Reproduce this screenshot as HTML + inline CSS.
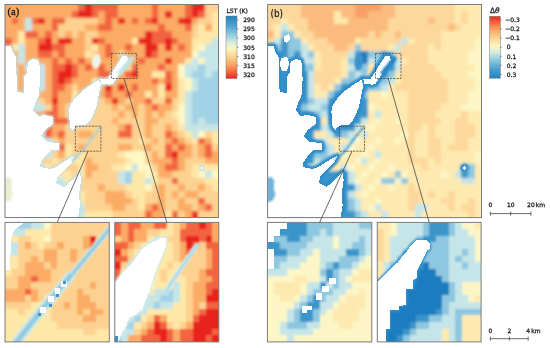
<!DOCTYPE html>
<html><head><meta charset="utf-8"><style>
html,body{margin:0;padding:0;background:#fff;}
body{width:550px;height:348px;overflow:hidden;}
svg{display:block;}
</style></head><body>
<svg width="550" height="348" viewBox="0 0 550 348" shape-rendering="crispEdges">
<defs><linearGradient id="ga" x1="0" y1="0" x2="0" y2="1"><stop offset="0%" stop-color="#2383c2"/><stop offset="15%" stop-color="#4aa0d0"/><stop offset="30%" stop-color="#8fcae0"/><stop offset="42%" stop-color="#d6ecdc"/><stop offset="52%" stop-color="#fcf6c0"/><stop offset="65%" stop-color="#fdd390"/><stop offset="78%" stop-color="#fba564"/><stop offset="90%" stop-color="#f3643c"/><stop offset="100%" stop-color="#e52a20"/></linearGradient><linearGradient id="gb" x1="0" y1="0" x2="0" y2="1"><stop offset="0%" stop-color="#e52a20"/><stop offset="10%" stop-color="#f3643c"/><stop offset="22%" stop-color="#fba564"/><stop offset="35%" stop-color="#fdd390"/><stop offset="48%" stop-color="#fcf6c0"/><stop offset="58%" stop-color="#d6ecdc"/><stop offset="70%" stop-color="#8fcae0"/><stop offset="85%" stop-color="#4aa0d0"/><stop offset="100%" stop-color="#2383c2"/></linearGradient><clipPath id="k0"><rect x="5" y="4.5" width="213.5" height="213"/></clipPath><clipPath id="k1"><rect x="267.6" y="4.5" width="213.9" height="213.1"/></clipPath><clipPath id="k2"><rect x="5" y="222.4" width="104.3" height="119.5"/></clipPath><clipPath id="k3"><rect x="114.8" y="222.4" width="104" height="119.5"/></clipPath><clipPath id="k4"><rect x="267.4" y="222.4" width="104.4" height="119.5"/></clipPath><clipPath id="k5"><rect x="377.3" y="222.4" width="103.8" height="119.5"/></clipPath><filter id="blm" x="-5%" y="-5%" width="110%" height="110%"><feGaussianBlur stdDeviation="1.6"/></filter><filter id="bli" x="-5%" y="-5%" width="110%" height="110%"><feGaussianBlur stdDeviation="1.2"/></filter><filter id="bh1" x="-5%" y="-5%" width="110%" height="110%"><feGaussianBlur stdDeviation="0.8"/></filter><filter id="bh2" x="-5%" y="-5%" width="110%" height="110%"><feGaussianBlur stdDeviation="1.2"/></filter><filter id="goo" x="-5%" y="-5%" width="110%" height="110%"><feGaussianBlur stdDeviation="1.5"/><feComponentTransfer><feFuncA type="linear" slope="8" intercept="-3.5"/></feComponentTransfer></filter></defs>
<g><g clip-path="url(#k0)"><g filter="url(#blm)"><path fill="#fbab65" d="M-1 -1.5H78.39V11.16H-1zM118.42 -1.5H151.78V11.16H118.42zM158.45 -1.5H185.14V11.16H158.45zM-1 11.16H71.72V17.81H-1zM98.41 11.16H105.08V17.81H98.41zM118.42 11.16H151.78V17.81H118.42zM158.45 11.16H165.12V17.81H158.45zM171.8 11.16H185.14V17.81H171.8zM-1 17.81H11.67V24.47H-1zM18.34 17.81H25.02V24.47H18.34zM45.03 17.81H51.7V24.47H45.03zM98.41 17.81H105.08V24.47H98.41zM111.75 17.81H118.42V24.47H111.75zM125.09 17.81H131.77V24.47H125.09zM138.44 17.81H145.11V24.47H138.44zM158.45 17.81H178.47V24.47H158.45zM191.81 17.81H198.48V24.47H191.81zM-1 24.47H25.02V31.12H-1zM31.69 24.47H51.7V31.12H31.69zM85.06 24.47H98.41V31.12H85.06zM111.75 24.47H158.45V31.12H111.75zM165.12 24.47H185.14V31.12H165.12zM205.16 24.47H211.83V31.12H205.16zM-1 31.12H18.34V37.78H-1zM38.36 31.12H45.03V37.78H38.36zM51.7 31.12H58.38V37.78H51.7zM65.05 31.12H71.72V37.78H65.05zM78.39 31.12H85.06V37.78H78.39zM98.41 31.12H145.11V37.78H98.41zM171.8 31.12H191.81V37.78H171.8zM11.67 37.78H18.34V44.44H11.67zM25.02 37.78H38.36V44.44H25.02zM51.7 37.78H58.38V44.44H51.7zM71.72 37.78H85.06V44.44H71.72zM105.08 37.78H131.77V44.44H105.08zM178.47 37.78H191.81V44.44H178.47zM25.02 44.44H38.36V51.09H25.02zM65.05 44.44H85.06V51.09H65.05zM98.41 44.44H105.08V51.09H98.41zM111.75 44.44H125.09V51.09H111.75zM131.77 44.44H145.11V51.09H131.77zM158.45 44.44H165.12V51.09H158.45zM171.8 44.44H178.47V51.09H171.8zM185.14 44.44H191.81V51.09H185.14zM-1 51.09H18.34V57.75H-1zM25.02 51.09H38.36V57.75H25.02zM51.7 51.09H58.38V57.75H51.7zM65.05 51.09H85.06V57.75H65.05zM98.41 51.09H105.08V57.75H98.41zM111.75 51.09H118.42V57.75H111.75zM125.09 51.09H145.11V57.75H125.09zM158.45 51.09H191.81V57.75H158.45zM-1 57.75H18.34V64.41H-1zM25.02 57.75H51.7V64.41H25.02zM58.38 57.75H65.05V64.41H58.38zM71.72 57.75H78.39V64.41H71.72zM85.06 57.75H91.73V64.41H85.06zM98.41 57.75H125.09V64.41H98.41zM131.77 57.75H138.44V64.41H131.77zM145.11 57.75H165.12V64.41H145.11zM171.8 57.75H185.14V64.41H171.8zM-1 64.41H25.02V71.06H-1zM31.69 64.41H38.36V71.06H31.69zM45.03 64.41H51.7V71.06H45.03zM78.39 64.41H85.06V71.06H78.39zM91.73 64.41H98.41V71.06H91.73zM105.08 64.41H118.42V71.06H105.08zM138.44 64.41H158.45V71.06H138.44zM165.12 64.41H178.47V71.06H165.12zM-1 71.06H38.36V77.72H-1zM45.03 71.06H51.7V77.72H45.03zM78.39 71.06H98.41V77.72H78.39zM118.42 71.06H125.09V77.72H118.42zM138.44 71.06H151.78V77.72H138.44zM171.8 71.06H178.47V77.72H171.8zM-1 77.72H31.69V84.38H-1zM45.03 77.72H51.7V84.38H45.03zM71.72 77.72H91.73V84.38H71.72zM98.41 77.72H105.08V84.38H98.41zM111.75 77.72H151.78V84.38H111.75zM158.45 77.72H165.12V84.38H158.45zM171.8 77.72H178.47V84.38H171.8zM-1 84.38H31.69V91.03H-1zM45.03 84.38H51.7V91.03H45.03zM65.05 84.38H71.72V91.03H65.05zM78.39 84.38H91.73V91.03H78.39zM98.41 84.38H105.08V91.03H98.41zM111.75 84.38H118.42V91.03H111.75zM125.09 84.38H131.77V91.03H125.09zM138.44 84.38H158.45V91.03H138.44zM171.8 84.38H178.47V91.03H171.8zM-1 91.03H25.02V97.69H-1zM38.36 91.03H51.7V97.69H38.36zM58.38 91.03H71.72V97.69H58.38zM78.39 91.03H105.08V97.69H78.39zM111.75 91.03H125.09V97.69H111.75zM131.77 91.03H145.11V97.69H131.77zM151.78 91.03H158.45V97.69H151.78zM165.12 91.03H178.47V97.69H165.12zM-1 97.69H25.02V104.34H-1zM45.03 97.69H51.7V104.34H45.03zM58.38 97.69H71.72V104.34H58.38zM78.39 97.69H91.73V104.34H78.39zM105.08 97.69H111.75V104.34H105.08zM118.42 97.69H125.09V104.34H118.42zM131.77 97.69H145.11V104.34H131.77zM-1 104.34H25.02V111H-1zM58.38 104.34H65.05V111H58.38zM85.06 104.34H91.73V111H85.06zM111.75 104.34H118.42V111H111.75zM125.09 104.34H138.44V111H125.09zM145.11 104.34H151.78V111H145.11zM158.45 104.34H171.8V111H158.45zM-1 111H45.03V117.66H-1zM58.38 111H65.05V117.66H58.38zM118.42 111H125.09V117.66H118.42zM131.77 111H138.44V117.66H131.77zM145.11 111H151.78V117.66H145.11zM158.45 111H165.12V117.66H158.45zM38.36 117.66H45.03V124.31H38.36zM111.75 117.66H118.42V124.31H111.75zM145.11 117.66H158.45V124.31H145.11zM51.7 124.31H65.05V130.97H51.7zM118.42 124.31H125.09V130.97H118.42zM145.11 124.31H151.78V130.97H145.11zM165.12 124.31H171.8V130.97H165.12zM51.7 130.97H58.38V137.62H51.7zM78.39 130.97H91.73V137.62H78.39zM145.11 130.97H151.78V137.62H145.11zM171.8 130.97H178.47V137.62H171.8zM58.38 137.62H65.05V144.28H58.38zM151.78 137.62H158.45V144.28H151.78zM165.12 137.62H171.8V144.28H165.12zM178.47 137.62H185.14V144.28H178.47zM205.16 137.62H211.83V144.28H205.16zM78.39 144.28H85.06V150.94H78.39zM118.42 144.28H131.77V150.94H118.42zM145.11 144.28H151.78V150.94H145.11zM171.8 144.28H178.47V150.94H171.8zM185.14 144.28H191.81V150.94H185.14zM198.48 144.28H205.16V150.94H198.48zM58.38 150.94H65.05V157.59H58.38zM151.78 150.94H158.45V157.59H151.78zM178.47 150.94H191.81V157.59H178.47zM198.48 150.94H205.16V157.59H198.48zM211.83 150.94H224.5V157.59H211.83zM85.06 157.59H91.73V164.25H85.06zM151.78 157.59H171.8V164.25H151.78zM178.47 157.59H185.14V164.25H178.47zM205.16 157.59H224.5V164.25H205.16zM85.06 164.25H98.41V170.91H85.06zM158.45 164.25H165.12V170.91H158.45zM178.47 164.25H185.14V170.91H178.47zM85.06 170.91H91.73V177.56H85.06zM158.45 170.91H171.8V177.56H158.45zM98.41 184.22H105.08V190.88H98.41zM158.45 184.22H165.12V190.88H158.45zM178.47 184.22H185.14V190.88H178.47zM198.48 184.22H205.16V190.88H198.48zM105.08 190.88H125.09V197.53H105.08zM158.45 190.88H165.12V197.53H158.45zM171.8 190.88H178.47V197.53H171.8zM185.14 190.88H198.48V197.53H185.14zM105.08 197.53H131.77V204.19H105.08zM158.45 197.53H165.12V204.19H158.45zM178.47 197.53H185.14V204.19H178.47zM111.75 204.19H125.09V210.84H111.75zM145.11 204.19H151.78V210.84H145.11zM158.45 204.19H165.12V210.84H158.45zM178.47 204.19H191.81V210.84H178.47zM198.48 204.19H205.16V210.84H198.48zM151.78 210.84H165.12V223.5H151.78zM185.14 210.84H191.81V223.5H185.14z"/>
<path fill="#f2643f" d="M78.39 -1.5H85.06V11.16H78.39zM91.73 -1.5H118.42V11.16H91.73zM151.78 -1.5H158.45V11.16H151.78zM185.14 -1.5H191.81V11.16H185.14zM71.72 11.16H78.39V17.81H71.72zM91.73 11.16H98.41V17.81H91.73zM105.08 11.16H118.42V17.81H105.08zM151.78 11.16H158.45V17.81H151.78zM185.14 11.16H191.81V17.81H185.14zM198.48 11.16H205.16V17.81H198.48zM11.67 17.81H18.34V24.47H11.67zM31.69 17.81H38.36V24.47H31.69zM51.7 17.81H65.05V24.47H51.7zM105.08 17.81H111.75V24.47H105.08zM131.77 17.81H138.44V24.47H131.77zM145.11 17.81H151.78V24.47H145.11zM51.7 24.47H58.38V31.12H51.7zM98.41 24.47H111.75V31.12H98.41zM158.45 24.47H165.12V31.12H158.45zM185.14 24.47H191.81V31.12H185.14zM25.02 31.12H38.36V37.78H25.02zM45.03 31.12H51.7V37.78H45.03zM151.78 31.12H171.8V37.78H151.78zM-1 37.78H11.67V44.44H-1zM38.36 37.78H45.03V44.44H38.36zM98.41 37.78H105.08V44.44H98.41zM151.78 37.78H165.12V44.44H151.78zM171.8 37.78H178.47V44.44H171.8zM-1 44.44H11.67V51.09H-1zM51.7 44.44H65.05V51.09H51.7zM105.08 44.44H111.75V51.09H105.08zM125.09 44.44H131.77V51.09H125.09zM178.47 44.44H185.14V51.09H178.47zM38.36 51.09H51.7V57.75H38.36zM58.38 51.09H65.05V57.75H58.38zM105.08 51.09H111.75V57.75H105.08zM151.78 51.09H158.45V57.75H151.78zM51.7 57.75H58.38V64.41H51.7zM65.05 57.75H71.72V64.41H65.05zM78.39 57.75H85.06V64.41H78.39zM138.44 57.75H145.11V64.41H138.44zM51.7 64.41H65.05V71.06H51.7zM71.72 64.41H78.39V71.06H71.72zM85.06 64.41H91.73V71.06H85.06zM98.41 64.41H105.08V71.06H98.41zM131.77 64.41H138.44V71.06H131.77zM158.45 64.41H165.12V71.06H158.45zM51.7 71.06H58.38V77.72H51.7zM71.72 71.06H78.39V77.72H71.72zM98.41 71.06H111.75V77.72H98.41zM125.09 71.06H131.77V77.72H125.09zM165.12 71.06H171.8V77.72H165.12zM51.7 77.72H58.38V84.38H51.7zM65.05 77.72H71.72V84.38H65.05zM151.78 77.72H158.45V84.38H151.78zM165.12 77.72H171.8V84.38H165.12zM51.7 84.38H65.05V91.03H51.7zM131.77 84.38H138.44V91.03H131.77zM51.7 91.03H58.38V97.69H51.7zM105.08 91.03H111.75V97.69H105.08zM125.09 91.03H131.77V97.69H125.09zM145.11 97.69H151.78V104.34H145.11zM165.12 97.69H171.8V104.34H165.12zM51.7 104.34H58.38V111H51.7zM151.78 104.34H158.45V111H151.78zM45.03 111H58.38V117.66H45.03zM45.03 117.66H71.72V124.31H45.03zM45.03 124.31H51.7V130.97H45.03zM125.09 124.31H131.77V130.97H125.09zM45.03 130.97H51.7V137.62H45.03zM58.38 130.97H65.05V137.62H58.38zM118.42 130.97H131.77V137.62H118.42zM165.12 130.97H171.8V137.62H165.12zM171.8 137.62H178.47V144.28H171.8zM198.48 137.62H205.16V144.28H198.48zM58.38 144.28H65.05V150.94H58.38zM165.12 144.28H171.8V150.94H165.12zM178.47 144.28H185.14V150.94H178.47zM205.16 144.28H211.83V150.94H205.16zM165.12 150.94H171.8V157.59H165.12zM205.16 150.94H211.83V157.59H205.16zM171.8 157.59H178.47V164.25H171.8zM165.12 164.25H178.47V170.91H165.12zM171.8 177.56H178.47V184.22H171.8zM198.48 197.53H205.16V204.19H198.48zM151.78 204.19H158.45V210.84H151.78zM205.16 204.19H211.83V210.84H205.16zM145.11 210.84H151.78V223.5H145.11zM171.8 210.84H178.47V223.5H171.8z"/>
<path fill="#e8201e" d="M85.06 -1.5H91.73V11.16H85.06zM191.81 -1.5H205.16V11.16H191.81zM78.39 11.16H91.73V17.81H78.39zM165.12 11.16H171.8V17.81H165.12zM191.81 11.16H198.48V17.81H191.81zM38.36 17.81H45.03V24.47H38.36zM118.42 17.81H125.09V24.47H118.42zM151.78 17.81H158.45V24.47H151.78zM178.47 17.81H191.81V24.47H178.47zM145.11 31.12H151.78V37.78H145.11zM45.03 37.78H51.7V44.44H45.03zM58.38 37.78H71.72V44.44H58.38zM91.73 37.78H98.41V44.44H91.73zM138.44 37.78H151.78V44.44H138.44zM165.12 37.78H171.8V44.44H165.12zM38.36 44.44H51.7V51.09H38.36zM145.11 44.44H158.45V51.09H145.11zM165.12 44.44H171.8V51.09H165.12zM145.11 51.09H151.78V57.75H145.11zM165.12 57.75H171.8V64.41H165.12zM65.05 64.41H71.72V71.06H65.05zM58.38 71.06H71.72V77.72H58.38zM131.77 71.06H138.44V77.72H131.77zM58.38 77.72H65.05V84.38H58.38zM105.08 84.38H111.75V91.03H105.08zM118.42 84.38H125.09V91.03H118.42zM165.12 84.38H171.8V91.03H165.12zM51.7 97.69H58.38V104.34H51.7zM111.75 97.69H118.42V104.34H111.75zM171.8 150.94H178.47V157.59H171.8zM191.81 210.84H198.48V223.5H191.81z"/>
<path fill="#fdd291" d="M205.16 -1.5H224.5V11.16H205.16zM205.16 11.16H211.83V17.81H205.16zM65.05 17.81H98.41V24.47H65.05zM198.48 17.81H211.83V24.47H198.48zM58.38 24.47H85.06V31.12H58.38zM191.81 24.47H198.48V31.12H191.81zM58.38 31.12H65.05V37.78H58.38zM71.72 31.12H78.39V37.78H71.72zM85.06 31.12H98.41V37.78H85.06zM191.81 31.12H198.48V37.78H191.81zM85.06 37.78H91.73V44.44H85.06zM85.06 44.44H91.73V51.09H85.06zM91.73 51.09H98.41V57.75H91.73zM118.42 51.09H125.09V57.75H118.42zM125.09 57.75H131.77V64.41H125.09zM118.42 64.41H131.77V71.06H118.42zM111.75 71.06H118.42V77.72H111.75zM71.72 84.38H78.39V91.03H71.72zM91.73 84.38H98.41V91.03H91.73zM38.36 97.69H45.03V104.34H38.36zM91.73 97.69H105.08V104.34H91.73zM125.09 97.69H131.77V104.34H125.09zM151.78 97.69H165.12V104.34H151.78zM171.8 97.69H178.47V104.34H171.8zM45.03 104.34H51.7V111H45.03zM65.05 104.34H85.06V111H65.05zM91.73 104.34H111.75V111H91.73zM118.42 104.34H125.09V111H118.42zM138.44 104.34H145.11V111H138.44zM171.8 104.34H178.47V111H171.8zM65.05 111H118.42V117.66H65.05zM125.09 111H131.77V117.66H125.09zM138.44 111H145.11V117.66H138.44zM151.78 111H158.45V117.66H151.78zM165.12 111H171.8V117.66H165.12zM71.72 117.66H111.75V124.31H71.72zM118.42 117.66H145.11V124.31H118.42zM158.45 117.66H178.47V124.31H158.45zM65.05 124.31H118.42V130.97H65.05zM131.77 124.31H145.11V130.97H131.77zM151.78 124.31H165.12V130.97H151.78zM171.8 124.31H178.47V130.97H171.8zM65.05 130.97H78.39V137.62H65.05zM91.73 130.97H118.42V137.62H91.73zM131.77 130.97H145.11V137.62H131.77zM151.78 130.97H165.12V137.62H151.78zM178.47 130.97H185.14V137.62H178.47zM205.16 130.97H211.83V137.62H205.16zM51.7 137.62H58.38V144.28H51.7zM65.05 137.62H138.44V144.28H65.05zM145.11 137.62H151.78V144.28H145.11zM158.45 137.62H165.12V144.28H158.45zM185.14 137.62H191.81V144.28H185.14zM51.7 144.28H58.38V150.94H51.7zM71.72 144.28H78.39V150.94H71.72zM85.06 144.28H118.42V150.94H85.06zM131.77 144.28H145.11V150.94H131.77zM151.78 144.28H165.12V150.94H151.78zM191.81 144.28H198.48V150.94H191.81zM211.83 144.28H224.5V150.94H211.83zM51.7 150.94H58.38V157.59H51.7zM71.72 150.94H78.39V157.59H71.72zM85.06 150.94H118.42V157.59H85.06zM145.11 150.94H151.78V157.59H145.11zM158.45 150.94H165.12V157.59H158.45zM191.81 150.94H198.48V157.59H191.81zM18.34 157.59H51.7V164.25H18.34zM58.38 157.59H71.72V164.25H58.38zM91.73 157.59H125.09V164.25H91.73zM145.11 157.59H151.78V164.25H145.11zM185.14 157.59H205.16V164.25H185.14zM51.7 164.25H58.38V170.91H51.7zM65.05 164.25H78.39V170.91H65.05zM98.41 164.25H111.75V170.91H98.41zM151.78 164.25H158.45V170.91H151.78zM185.14 164.25H191.81V170.91H185.14zM71.72 170.91H78.39V177.56H71.72zM91.73 170.91H118.42V177.56H91.73zM171.8 170.91H191.81V177.56H171.8zM71.72 177.56H118.42V184.22H71.72zM158.45 177.56H171.8V184.22H158.45zM178.47 177.56H205.16V184.22H178.47zM78.39 184.22H98.41V190.88H78.39zM105.08 184.22H125.09V190.88H105.08zM151.78 184.22H158.45V190.88H151.78zM165.12 184.22H178.47V190.88H165.12zM185.14 184.22H198.48V190.88H185.14zM205.16 184.22H211.83V190.88H205.16zM85.06 190.88H105.08V197.53H85.06zM125.09 190.88H131.77V197.53H125.09zM145.11 190.88H158.45V197.53H145.11zM165.12 190.88H171.8V197.53H165.12zM178.47 190.88H185.14V197.53H178.47zM198.48 190.88H224.5V197.53H198.48zM85.06 197.53H105.08V204.19H85.06zM131.77 197.53H138.44V204.19H131.77zM145.11 197.53H158.45V204.19H145.11zM165.12 197.53H178.47V204.19H165.12zM185.14 197.53H198.48V204.19H185.14zM205.16 197.53H224.5V204.19H205.16zM85.06 204.19H111.75V210.84H85.06zM125.09 204.19H138.44V210.84H125.09zM165.12 204.19H178.47V210.84H165.12zM191.81 204.19H198.48V210.84H191.81zM211.83 204.19H224.5V210.84H211.83zM111.75 210.84H145.11V223.5H111.75zM178.47 210.84H185.14V223.5H178.47zM198.48 210.84H224.5V223.5H198.48z"/>
<path fill="#fee8a8" d="M211.83 11.16H224.5V17.81H211.83zM211.83 17.81H224.5V24.47H211.83zM198.48 24.47H205.16V31.12H198.48zM211.83 24.47H224.5V31.12H211.83zM18.34 31.12H25.02V37.78H18.34zM198.48 31.12H224.5V37.78H198.48zM18.34 37.78H25.02V44.44H18.34zM131.77 37.78H138.44V44.44H131.77zM191.81 37.78H211.83V44.44H191.81zM11.67 44.44H18.34V51.09H11.67zM91.73 44.44H98.41V51.09H91.73zM191.81 44.44H198.48V51.09H191.81zM85.06 51.09H91.73V57.75H85.06zM91.73 57.75H98.41V64.41H91.73zM185.14 57.75H191.81V64.41H185.14zM151.78 71.06H165.12V77.72H151.78zM91.73 77.72H98.41V84.38H91.73zM105.08 77.72H111.75V84.38H105.08zM178.47 77.72H185.14V84.38H178.47zM158.45 84.38H165.12V91.03H158.45zM178.47 84.38H185.14V91.03H178.47zM71.72 91.03H78.39V97.69H71.72zM145.11 91.03H151.78V97.69H145.11zM158.45 91.03H165.12V97.69H158.45zM178.47 91.03H185.14V97.69H178.47zM71.72 97.69H78.39V104.34H71.72zM178.47 97.69H185.14V104.34H178.47zM171.8 111H178.47V117.66H171.8zM178.47 124.31H185.14V130.97H178.47zM185.14 130.97H191.81V137.62H185.14zM211.83 130.97H224.5V137.62H211.83zM138.44 137.62H145.11V144.28H138.44zM191.81 137.62H198.48V144.28H191.81zM211.83 137.62H224.5V144.28H211.83zM-1 144.28H18.34V150.94H-1zM65.05 144.28H71.72V150.94H65.05zM-1 150.94H18.34V157.59H-1zM65.05 150.94H71.72V157.59H65.05zM78.39 150.94H85.06V157.59H78.39zM118.42 150.94H125.09V157.59H118.42zM-1 157.59H18.34V164.25H-1zM51.7 157.59H58.38V164.25H51.7zM71.72 157.59H85.06V164.25H71.72zM125.09 157.59H131.77V164.25H125.09zM-1 164.25H18.34V170.91H-1zM45.03 164.25H51.7V170.91H45.03zM58.38 164.25H65.05V170.91H58.38zM78.39 164.25H85.06V170.91H78.39zM111.75 164.25H125.09V170.91H111.75zM191.81 164.25H224.5V170.91H191.81zM-1 170.91H25.02V177.56H-1zM58.38 170.91H71.72V177.56H58.38zM78.39 170.91H85.06V177.56H78.39zM131.77 170.91H145.11V177.56H131.77zM151.78 170.91H158.45V177.56H151.78zM191.81 170.91H198.48V177.56H191.81zM-1 177.56H31.69V184.22H-1zM65.05 177.56H71.72V184.22H65.05zM131.77 177.56H145.11V184.22H131.77zM151.78 177.56H158.45V184.22H151.78zM205.16 177.56H224.5V184.22H205.16zM125.09 184.22H145.11V190.88H125.09zM211.83 184.22H224.5V190.88H211.83zM-1 190.88H31.69V197.53H-1zM78.39 190.88H85.06V197.53H78.39zM131.77 190.88H145.11V197.53H131.77zM-1 197.53H31.69V204.19H-1zM71.72 197.53H85.06V204.19H71.72zM138.44 197.53H145.11V204.19H138.44zM138.44 204.19H145.11V210.84H138.44zM-1 210.84H45.03V223.5H-1zM85.06 210.84H111.75V223.5H85.06zM165.12 210.84H171.8V223.5H165.12z"/>
<path fill="#c6e5e6" d="M25.02 17.81H31.69V24.47H25.02zM25.02 24.47H31.69V31.12H25.02zM211.83 37.78H224.5V44.44H211.83zM18.34 44.44H25.02V51.09H18.34zM205.16 44.44H224.5V51.09H205.16zM18.34 51.09H25.02V57.75H18.34zM198.48 51.09H224.5V57.75H198.48zM18.34 57.75H25.02V64.41H18.34zM191.81 57.75H198.48V64.41H191.81zM205.16 57.75H224.5V64.41H205.16zM25.02 64.41H31.69V71.06H25.02zM38.36 64.41H45.03V71.06H38.36zM185.14 64.41H198.48V71.06H185.14zM205.16 64.41H224.5V71.06H205.16zM38.36 71.06H45.03V77.72H38.36zM185.14 71.06H191.81V77.72H185.14zM205.16 71.06H211.83V77.72H205.16zM31.69 77.72H45.03V84.38H31.69zM191.81 77.72H198.48V84.38H191.81zM31.69 84.38H45.03V91.03H31.69zM191.81 84.38H198.48V91.03H191.81zM25.02 91.03H38.36V97.69H25.02zM185.14 91.03H191.81V97.69H185.14zM25.02 97.69H38.36V104.34H25.02zM185.14 97.69H191.81V104.34H185.14zM25.02 104.34H45.03V111H25.02zM185.14 104.34H191.81V111H185.14zM185.14 111H191.81V117.66H185.14zM-1 117.66H38.36V124.31H-1zM185.14 117.66H191.81V124.31H185.14zM198.48 117.66H205.16V124.31H198.48zM-1 124.31H45.03V130.97H-1zM185.14 124.31H224.5V130.97H185.14zM-1 130.97H45.03V137.62H-1zM191.81 130.97H198.48V137.62H191.81zM-1 137.62H51.7V144.28H-1zM18.34 144.28H51.7V150.94H18.34zM18.34 150.94H51.7V157.59H18.34zM18.34 164.25H45.03V170.91H18.34zM131.77 164.25H138.44V170.91H131.77zM25.02 170.91H58.38V177.56H25.02zM118.42 170.91H125.09V177.56H118.42zM205.16 170.91H211.83V177.56H205.16zM31.69 177.56H65.05V184.22H31.69zM118.42 177.56H125.09V184.22H118.42zM145.11 177.56H151.78V184.22H145.11zM-1 184.22H78.39V190.88H-1zM31.69 190.88H78.39V197.53H31.69zM31.69 197.53H71.72V204.19H31.69zM-1 204.19H85.06V210.84H-1zM45.03 210.84H85.06V223.5H45.03z"/>
<path fill="#fef8c4" d="M198.48 44.44H205.16V51.09H198.48zM191.81 51.09H198.48V57.75H191.81zM198.48 57.75H205.16V64.41H198.48zM178.47 64.41H185.14V71.06H178.47zM178.47 71.06H185.14V77.72H178.47zM185.14 77.72H191.81V84.38H185.14zM185.14 84.38H191.81V91.03H185.14zM178.47 104.34H185.14V111H178.47zM178.47 111H185.14V117.66H178.47zM178.47 117.66H185.14V124.31H178.47zM198.48 130.97H205.16V137.62H198.48zM125.09 150.94H145.11V157.59H125.09zM131.77 157.59H145.11V164.25H131.77zM125.09 164.25H131.77V170.91H125.09zM138.44 164.25H151.78V170.91H138.44zM145.11 170.91H151.78V177.56H145.11zM198.48 170.91H205.16V177.56H198.48zM211.83 170.91H224.5V177.56H211.83zM145.11 184.22H151.78V190.88H145.11z"/>
<path fill="#a2d2e5" d="M198.48 64.41H205.16V71.06H198.48zM191.81 71.06H205.16V77.72H191.81zM211.83 71.06H224.5V77.72H211.83zM198.48 77.72H224.5V84.38H198.48zM198.48 84.38H224.5V91.03H198.48zM191.81 91.03H224.5V97.69H191.81zM191.81 97.69H224.5V104.34H191.81zM191.81 104.34H224.5V111H191.81zM191.81 111H224.5V117.66H191.81zM191.81 117.66H198.48V124.31H191.81zM205.16 117.66H224.5V124.31H205.16zM125.09 170.91H131.77V177.56H125.09zM125.09 177.56H131.77V184.22H125.09z"/></g><path d="M4 46 11 46 13 52 16 57 16.5 75 17 92 24 93 24.5 76 27 73 28 62 33 59 38 60 39.5 65 40 80 39 95 36 102 33 110 38 116 45 115 53 117 53 124 45 130 41 136 47 142 59 143 59 150 51 150 45 156 41 162 40 167 50 169 56 167 62 163 70 158 75 156 72 162 64 170 58 176 56 183 64 187 71 181 76 176 80 172 81 180 79 195 80 205 78 218 4 218zM100.2 79 92 84 82 91 74.6 98.7 69.8 106 68.8 112 69.5 120 70 127 72.5 130 75 127 80 125 86 124.5 90 121 93.5 114 96.6 106 99 93.8 101.5 81.6zM99.5 78.5 107.5 79.5 109.5 84 102 84.5 99 82zM126.5 55.5 128.4 59.9 112.9 83.9 109 84.8 107.1 80.1 122.6 56.1zM200.4 168a1.6 1.6 0 1 0 3.2 0a1.6 1.6 0 1 0 -3.2 0z" fill="none" stroke="#bfe0e6" stroke-width="2.5" stroke-linejoin="round" filter="url(#bh1)"/><path d="M4 46 11 46 13 52 16 57 16.5 75 17 92 24 93 24.5 76 27 73 28 62 33 59 38 60 39.5 65 40 80 39 95 36 102 33 110 38 116 45 115 53 117 53 124 45 130 41 136 47 142 59 143 59 150 51 150 45 156 41 162 40 167 50 169 56 167 62 163 70 158 75 156 72 162 64 170 58 176 56 183 64 187 71 181 76 176 80 172 81 180 79 195 80 205 78 218 4 218zM100.2 79 92 84 82 91 74.6 98.7 69.8 106 68.8 112 69.5 120 70 127 72.5 130 75 127 80 125 86 124.5 90 121 93.5 114 96.6 106 99 93.8 101.5 81.6zM99.5 78.5 107.5 79.5 109.5 84 102 84.5 99 82zM126.5 55.5 128.4 59.9 112.9 83.9 109 84.8 107.1 80.1 122.6 56.1zM200.4 168a1.6 1.6 0 1 0 3.2 0a1.6 1.6 0 1 0 -3.2 0z" fill="#fff"/><polyline points="101.5,126.5 92,138 83.4,150 72,161" fill="none" stroke="#9fd0e3" stroke-width="1.8" filter="url(#bh1)"/><polygon points="134.5,58.5 121,75.5 117.5,72.5 131.5,55.5" fill="#bfe3e8" filter="url(#bh1)"/><polygon points="94,55 99,54 101,60 99,67 95,69 92,64" fill="#eef6f0" filter="url(#bh1)"/><polygon points="4,178 9,177 12,181 11,188 13,194 10,201 4,202" fill="#e6efcf" filter="url(#bh1)"/></g>
<g clip-path="url(#k1)"><g filter="url(#blm)"><path fill="#fdd89c" d="M261.6 -1.5H301.02V11.16H261.6zM394.6 -1.5H454.76V11.16H394.6zM261.6 11.16H301.02V17.82H261.6zM394.6 11.16H454.76V17.82H394.6zM461.45 11.16H468.13V17.82H461.45zM261.6 17.82H280.97V24.48H261.6zM287.65 17.82H307.71V24.48H287.65zM387.92 17.82H428.02V24.48H387.92zM434.71 17.82H454.76V24.48H434.71zM461.45 17.82H468.13V24.48H461.45zM261.6 24.48H274.28V31.14H261.6zM294.34 24.48H307.71V31.14H294.34zM387.92 24.48H448.08V31.14H387.92zM454.76 24.48H461.45V31.14H454.76zM301.02 31.14H314.39V37.8H301.02zM367.87 31.14H374.55V37.8H367.87zM381.23 31.14H394.6V37.8H381.23zM401.29 31.14H441.39V37.8H401.29zM261.6 37.8H274.28V44.46H261.6zM307.71 37.8H327.76V44.46H307.71zM361.18 37.8H401.29V44.46H361.18zM414.66 37.8H441.39V44.46H414.66zM314.39 44.46H334.44V51.12H314.39zM347.81 44.46H354.5V51.12H347.81zM361.18 44.46H387.92V51.12H361.18zM401.29 44.46H428.02V51.12H401.29zM434.71 44.46H441.39V51.12H434.71zM321.08 51.12H347.81V57.77H321.08zM394.6 51.12H428.02V57.77H394.6zM321.08 57.77H341.13V64.43H321.08zM407.97 57.77H428.02V64.43H407.97zM321.08 64.43H341.13V71.09H321.08zM401.29 64.43H434.71V71.09H401.29zM314.39 71.09H341.13V77.75H314.39zM401.29 71.09H441.39V77.75H401.29zM314.39 77.75H334.44V84.41H314.39zM401.29 77.75H448.08V84.41H401.29zM321.08 84.41H327.76V91.07H321.08zM394.6 84.41H448.08V91.07H394.6zM407.97 91.07H448.08V97.73H407.97zM407.97 97.73H448.08V104.39H407.97zM407.97 104.39H441.39V111.05H407.97zM407.97 111.05H434.71V117.71H407.97zM461.45 111.05H468.13V117.71H461.45zM407.97 117.71H441.39V124.37H407.97zM454.76 117.71H468.13V124.37H454.76zM407.97 124.37H421.34V131.03H407.97zM428.02 124.37H434.71V131.03H428.02zM454.76 124.37H474.82V131.03H454.76zM407.97 131.03H414.66V137.69H407.97zM428.02 131.03H434.71V137.69H428.02zM454.76 131.03H474.82V137.69H454.76zM407.97 137.69H414.66V144.35H407.97zM428.02 137.69H441.39V144.35H428.02zM454.76 137.69H468.13V144.35H454.76zM407.97 144.35H414.66V151.01H407.97zM428.02 144.35H441.39V151.01H428.02zM448.08 144.35H468.13V151.01H448.08zM407.97 151.01H414.66V157.67H407.97zM428.02 151.01H441.39V157.67H428.02zM407.97 157.67H428.02V164.32H407.97zM434.71 157.67H441.39V164.32H434.71zM421.34 164.32H428.02V170.98H421.34zM407.97 184.3H414.66V190.96H407.97zM407.97 190.96H421.34V197.62H407.97zM428.02 190.96H434.71V197.62H428.02zM448.08 190.96H454.76V197.62H448.08zM407.97 197.62H421.34V204.28H407.97zM441.39 197.62H454.76V204.28H441.39zM468.13 197.62H474.82V204.28H468.13zM407.97 204.28H414.66V210.94H407.97zM448.08 204.28H454.76V210.94H448.08zM461.45 204.28H474.82V210.94H461.45zM468.13 210.94H474.82V223.6H468.13z"/>
<path fill="#fbbb7c" d="M301.02 -1.5H354.5V11.16H301.02zM381.23 -1.5H394.6V11.16H381.23zM301.02 11.16H334.44V17.82H301.02zM341.13 11.16H354.5V17.82H341.13zM367.87 11.16H394.6V17.82H367.87zM307.71 17.82H334.44V24.48H307.71zM347.81 17.82H387.92V24.48H347.81zM428.02 17.82H434.71V24.48H428.02zM307.71 24.48H387.92V31.14H307.71zM448.08 24.48H454.76V31.14H448.08zM261.6 31.14H274.28V37.8H261.6zM314.39 31.14H367.87V37.8H314.39zM374.55 31.14H381.23V37.8H374.55zM394.6 31.14H401.29V37.8H394.6zM327.76 37.8H354.5V44.46H327.76zM334.44 44.46H347.81V51.12H334.44z"/>
<path fill="#f8a066" d="M354.5 -1.5H381.23V11.16H354.5zM354.5 11.16H367.87V17.82H354.5z"/>
<path fill="#feeab0" d="M454.76 -1.5H487.5V11.16H454.76zM334.44 11.16H341.13V17.82H334.44zM454.76 11.16H461.45V17.82H454.76zM468.13 11.16H487.5V17.82H468.13zM280.97 17.82H287.65V24.48H280.97zM334.44 17.82H347.81V24.48H334.44zM454.76 17.82H461.45V24.48H454.76zM468.13 17.82H487.5V24.48H468.13zM274.28 24.48H280.97V31.14H274.28zM287.65 24.48H294.34V31.14H287.65zM461.45 24.48H487.5V31.14H461.45zM274.28 31.14H280.97V37.8H274.28zM294.34 31.14H301.02V37.8H294.34zM441.39 31.14H487.5V37.8H441.39zM301.02 37.8H307.71V44.46H301.02zM354.5 37.8H361.18V44.46H354.5zM407.97 37.8H414.66V44.46H407.97zM441.39 37.8H474.82V44.46H441.39zM307.71 44.46H314.39V51.12H307.71zM387.92 44.46H394.6V51.12H387.92zM428.02 44.46H434.71V51.12H428.02zM441.39 44.46H474.82V51.12H441.39zM314.39 51.12H321.08V57.77H314.39zM428.02 51.12H468.13V57.77H428.02zM314.39 57.77H321.08V64.43H314.39zM341.13 57.77H347.81V64.43H341.13zM401.29 57.77H407.97V64.43H401.29zM428.02 57.77H468.13V64.43H428.02zM314.39 64.43H321.08V71.09H314.39zM341.13 64.43H347.81V71.09H341.13zM367.87 64.43H374.55V71.09H367.87zM434.71 64.43H474.82V71.09H434.71zM341.13 71.09H347.81V77.75H341.13zM367.87 71.09H374.55V77.75H367.87zM394.6 71.09H401.29V77.75H394.6zM441.39 71.09H468.13V77.75H441.39zM334.44 77.75H341.13V84.41H334.44zM394.6 77.75H401.29V84.41H394.6zM448.08 77.75H474.82V84.41H448.08zM314.39 84.41H321.08V91.07H314.39zM327.76 84.41H334.44V91.07H327.76zM387.92 84.41H394.6V91.07H387.92zM448.08 84.41H474.82V91.07H448.08zM314.39 91.07H327.76V97.73H314.39zM367.87 91.07H381.23V97.73H367.87zM387.92 91.07H407.97V97.73H387.92zM448.08 91.07H468.13V97.73H448.08zM367.87 97.73H407.97V104.39H367.87zM448.08 97.73H468.13V104.39H448.08zM374.55 104.39H407.97V111.05H374.55zM441.39 104.39H461.45V111.05H441.39zM367.87 111.05H374.55V117.71H367.87zM381.23 111.05H407.97V117.71H381.23zM434.71 111.05H461.45V117.71H434.71zM468.13 111.05H487.5V117.71H468.13zM321.08 117.71H327.76V124.37H321.08zM367.87 117.71H374.55V124.37H367.87zM381.23 117.71H394.6V124.37H381.23zM401.29 117.71H407.97V124.37H401.29zM441.39 117.71H454.76V124.37H441.39zM468.13 117.71H487.5V124.37H468.13zM361.18 124.37H367.87V131.03H361.18zM374.55 124.37H407.97V131.03H374.55zM421.34 124.37H428.02V131.03H421.34zM434.71 124.37H454.76V131.03H434.71zM474.82 124.37H487.5V131.03H474.82zM314.39 131.03H327.76V137.69H314.39zM354.5 131.03H361.18V137.69H354.5zM367.87 131.03H401.29V137.69H367.87zM414.66 131.03H428.02V137.69H414.66zM434.71 131.03H454.76V137.69H434.71zM474.82 131.03H487.5V137.69H474.82zM327.76 137.69H347.81V144.35H327.76zM361.18 137.69H374.55V144.35H361.18zM381.23 137.69H394.6V144.35H381.23zM401.29 137.69H407.97V144.35H401.29zM414.66 137.69H428.02V144.35H414.66zM441.39 137.69H454.76V144.35H441.39zM468.13 137.69H487.5V144.35H468.13zM334.44 144.35H341.13V151.01H334.44zM354.5 144.35H367.87V151.01H354.5zM374.55 144.35H407.97V151.01H374.55zM414.66 144.35H428.02V151.01H414.66zM441.39 144.35H448.08V151.01H441.39zM468.13 144.35H487.5V151.01H468.13zM334.44 151.01H341.13V157.67H334.44zM347.81 151.01H361.18V157.67H347.81zM367.87 151.01H374.55V157.67H367.87zM381.23 151.01H407.97V157.67H381.23zM414.66 151.01H428.02V157.67H414.66zM441.39 151.01H474.82V157.67H441.39zM334.44 157.67H354.5V164.32H334.44zM367.87 157.67H374.55V164.32H367.87zM381.23 157.67H407.97V164.32H381.23zM428.02 157.67H434.71V164.32H428.02zM441.39 157.67H474.82V164.32H441.39zM314.39 164.32H321.08V170.98H314.39zM327.76 164.32H341.13V170.98H327.76zM354.5 164.32H367.87V170.98H354.5zM374.55 164.32H387.92V170.98H374.55zM394.6 164.32H421.34V170.98H394.6zM428.02 164.32H461.45V170.98H428.02zM474.82 164.32H487.5V170.98H474.82zM354.5 170.98H361.18V177.64H354.5zM367.87 170.98H381.23V177.64H367.87zM387.92 170.98H394.6V177.64H387.92zM407.97 170.98H441.39V177.64H407.97zM448.08 170.98H454.76V177.64H448.08zM474.82 170.98H487.5V177.64H474.82zM361.18 177.64H374.55V184.3H361.18zM407.97 177.64H461.45V184.3H407.97zM474.82 177.64H487.5V184.3H474.82zM361.18 184.3H367.87V190.96H361.18zM374.55 184.3H387.92V190.96H374.55zM394.6 184.3H407.97V190.96H394.6zM414.66 184.3H487.5V190.96H414.66zM354.5 190.96H361.18V197.62H354.5zM367.87 190.96H407.97V197.62H367.87zM421.34 190.96H428.02V197.62H421.34zM434.71 190.96H448.08V197.62H434.71zM454.76 190.96H487.5V197.62H454.76zM361.18 197.62H374.55V204.28H361.18zM381.23 197.62H407.97V204.28H381.23zM421.34 197.62H441.39V204.28H421.34zM454.76 197.62H468.13V204.28H454.76zM474.82 197.62H487.5V204.28H474.82zM361.18 204.28H367.87V210.94H361.18zM381.23 204.28H407.97V210.94H381.23zM428.02 204.28H448.08V210.94H428.02zM454.76 204.28H461.45V210.94H454.76zM474.82 204.28H487.5V210.94H474.82zM367.87 210.94H381.23V223.6H367.87zM387.92 210.94H414.66V223.6H387.92zM421.34 210.94H468.13V223.6H421.34zM474.82 210.94H487.5V223.6H474.82z"/>
<path fill="#c6e5e8" d="M280.97 24.48H287.65V31.14H280.97zM274.28 37.8H280.97V44.46H274.28zM401.29 37.8H407.97V44.46H401.29zM261.6 44.46H274.28V51.12H261.6zM301.02 44.46H307.71V51.12H301.02zM394.6 44.46H401.29V51.12H394.6zM301.02 51.12H307.71V57.77H301.02zM347.81 51.12H354.5V57.77H347.81zM301.02 57.77H314.39V64.43H301.02zM367.87 57.77H374.55V64.43H367.87zM394.6 57.77H401.29V64.43H394.6zM347.81 64.43H354.5V71.09H347.81zM394.6 64.43H401.29V71.09H394.6zM307.71 71.09H314.39V77.75H307.71zM354.5 71.09H361.18V77.75H354.5zM307.71 77.75H314.39V84.41H307.71zM387.92 77.75H394.6V84.41H387.92zM307.71 84.41H314.39V91.07H307.71zM381.23 84.41H387.92V91.07H381.23zM307.71 91.07H314.39V97.73H307.71zM314.39 97.73H327.76V104.39H314.39zM307.71 104.39H321.08V111.05H307.71zM321.08 111.05H327.76V117.71H321.08zM374.55 111.05H381.23V117.71H374.55zM361.18 117.71H367.87V124.37H361.18zM321.08 124.37H327.76V131.03H321.08zM354.5 124.37H361.18V131.03H354.5zM327.76 131.03H334.44V137.69H327.76zM347.81 131.03H354.5V137.69H347.81zM361.18 131.03H367.87V137.69H361.18zM314.39 137.69H327.76V144.35H314.39zM347.81 137.69H354.5V144.35H347.81zM327.76 144.35H334.44V151.01H327.76zM341.13 144.35H347.81V151.01H341.13zM327.76 151.01H334.44V157.67H327.76zM374.55 151.01H381.23V157.67H374.55zM314.39 157.67H321.08V164.32H314.39zM361.18 157.67H367.87V164.32H361.18zM307.71 164.32H314.39V170.98H307.71zM341.13 164.32H347.81V170.98H341.13zM347.81 170.98H354.5V177.64H347.81zM454.76 170.98H461.45V177.64H454.76zM347.81 177.64H354.5V184.3H347.81zM461.45 177.64H474.82V184.3H461.45zM354.5 184.3H361.18V190.96H354.5zM261.6 190.96H294.34V197.62H261.6zM347.81 190.96H354.5V197.62H347.81zM354.5 197.62H361.18V204.28H354.5zM354.5 204.28H361.18V210.94H354.5zM374.55 204.28H381.23V210.94H374.55zM414.66 204.28H428.02V210.94H414.66zM361.18 210.94H367.87V223.6H361.18zM381.23 210.94H387.92V223.6H381.23zM414.66 210.94H421.34V223.6H414.66z"/>
<path fill="#8ec7e0" d="M280.97 31.14H294.34V37.8H280.97zM287.65 37.8H301.02V44.46H287.65zM274.28 44.46H280.97V51.12H274.28zM287.65 44.46H301.02V51.12H287.65zM354.5 44.46H361.18V51.12H354.5zM287.65 51.12H294.34V57.77H287.65zM307.71 51.12H314.39V57.77H307.71zM367.87 51.12H381.23V57.77H367.87zM387.92 51.12H394.6V57.77H387.92zM280.97 57.77H287.65V64.43H280.97zM294.34 57.77H301.02V64.43H294.34zM347.81 57.77H354.5V64.43H347.81zM374.55 57.77H381.23V64.43H374.55zM294.34 64.43H314.39V71.09H294.34zM361.18 64.43H367.87V71.09H361.18zM347.81 71.09H354.5V77.75H347.81zM361.18 71.09H367.87V77.75H361.18zM387.92 71.09H394.6V77.75H387.92zM341.13 77.75H387.92V84.41H341.13zM334.44 84.41H341.13V91.07H334.44zM367.87 84.41H381.23V91.07H367.87zM327.76 91.07H334.44V97.73H327.76zM354.5 91.07H367.87V97.73H354.5zM307.71 97.73H314.39V104.39H307.71zM301.02 104.39H307.71V111.05H301.02zM321.08 104.39H327.76V111.05H321.08zM314.39 111.05H321.08V117.71H314.39zM327.76 124.37H334.44V131.03H327.76zM341.13 131.03H347.81V137.69H341.13zM261.6 144.35H274.28V151.01H261.6zM321.08 144.35H327.76V151.01H321.08zM261.6 151.01H280.97V157.67H261.6zM314.39 151.01H327.76V157.67H314.39zM261.6 157.67H280.97V164.32H261.6zM321.08 157.67H334.44V164.32H321.08zM261.6 164.32H280.97V170.98H261.6zM321.08 164.32H327.76V170.98H321.08zM461.45 164.32H474.82V170.98H461.45zM261.6 170.98H287.65V177.64H261.6zM394.6 170.98H401.29V177.64H394.6zM468.13 170.98H474.82V177.64H468.13zM261.6 177.64H294.34V184.3H261.6zM381.23 177.64H394.6V184.3H381.23zM401.29 177.64H407.97V184.3H401.29zM261.6 184.3H321.08V190.96H261.6zM294.34 190.96H321.08V197.62H294.34zM301.02 197.62H321.08V204.28H301.02zM347.81 197.62H354.5V204.28H347.81zM301.02 204.28H321.08V210.94H301.02zM347.81 204.28H354.5V210.94H347.81zM261.6 210.94H307.71V223.6H261.6zM354.5 210.94H361.18V223.6H354.5z"/>
<path fill="#3b95cb" d="M280.97 37.8H287.65V44.46H280.97zM280.97 44.46H287.65V51.12H280.97zM261.6 51.12H287.65V57.77H261.6zM294.34 51.12H301.02V57.77H294.34zM354.5 51.12H361.18V57.77H354.5zM381.23 51.12H387.92V57.77H381.23zM261.6 57.77H280.97V64.43H261.6zM287.65 57.77H294.34V64.43H287.65zM354.5 57.77H361.18V64.43H354.5zM381.23 57.77H394.6V64.43H381.23zM261.6 64.43H294.34V71.09H261.6zM354.5 64.43H361.18V71.09H354.5zM374.55 64.43H394.6V71.09H374.55zM261.6 71.09H307.71V77.75H261.6zM374.55 71.09H387.92V77.75H374.55zM261.6 77.75H307.71V84.41H261.6zM261.6 84.41H307.71V91.07H261.6zM341.13 84.41H367.87V91.07H341.13zM261.6 91.07H307.71V97.73H261.6zM334.44 91.07H354.5V97.73H334.44zM261.6 97.73H307.71V104.39H261.6zM327.76 97.73H367.87V104.39H327.76zM261.6 104.39H301.02V111.05H261.6zM327.76 104.39H367.87V111.05H327.76zM261.6 111.05H314.39V117.71H261.6zM327.76 111.05H367.87V117.71H327.76zM261.6 117.71H321.08V124.37H261.6zM327.76 117.71H361.18V124.37H327.76zM261.6 124.37H321.08V131.03H261.6zM334.44 124.37H354.5V131.03H334.44zM261.6 131.03H314.39V137.69H261.6zM334.44 131.03H341.13V137.69H334.44zM261.6 137.69H314.39V144.35H261.6zM274.28 144.35H321.08V151.01H274.28zM280.97 151.01H314.39V157.67H280.97zM280.97 157.67H314.39V164.32H280.97zM280.97 164.32H307.71V170.98H280.97zM287.65 170.98H347.81V177.64H287.65zM461.45 170.98H468.13V177.64H461.45zM294.34 177.64H347.81V184.3H294.34zM321.08 184.3H354.5V190.96H321.08zM321.08 190.96H347.81V197.62H321.08zM261.6 197.62H301.02V204.28H261.6zM321.08 197.62H347.81V204.28H321.08zM261.6 204.28H301.02V210.94H261.6zM321.08 204.28H347.81V210.94H321.08zM307.71 210.94H354.5V223.6H307.71z"/>
<path fill="#fcf6c6" d="M474.82 37.8H487.5V44.46H474.82zM474.82 44.46H487.5V51.12H474.82zM468.13 51.12H487.5V57.77H468.13zM468.13 57.77H487.5V64.43H468.13zM474.82 64.43H487.5V71.09H474.82zM468.13 71.09H487.5V77.75H468.13zM474.82 77.75H487.5V84.41H474.82zM474.82 84.41H487.5V91.07H474.82zM381.23 91.07H387.92V97.73H381.23zM468.13 91.07H487.5V97.73H468.13zM468.13 97.73H487.5V104.39H468.13zM367.87 104.39H374.55V111.05H367.87zM461.45 104.39H487.5V111.05H461.45zM374.55 117.71H381.23V124.37H374.55zM394.6 117.71H401.29V124.37H394.6zM367.87 124.37H374.55V131.03H367.87zM401.29 131.03H407.97V137.69H401.29zM354.5 137.69H361.18V144.35H354.5zM374.55 137.69H381.23V144.35H374.55zM394.6 137.69H401.29V144.35H394.6zM347.81 144.35H354.5V151.01H347.81zM367.87 144.35H374.55V151.01H367.87zM341.13 151.01H347.81V157.67H341.13zM361.18 151.01H367.87V157.67H361.18zM474.82 151.01H487.5V157.67H474.82zM354.5 157.67H361.18V164.32H354.5zM374.55 157.67H381.23V164.32H374.55zM474.82 157.67H487.5V164.32H474.82zM347.81 164.32H354.5V170.98H347.81zM367.87 164.32H374.55V170.98H367.87zM387.92 164.32H394.6V170.98H387.92zM361.18 170.98H367.87V177.64H361.18zM381.23 170.98H387.92V177.64H381.23zM401.29 170.98H407.97V177.64H401.29zM441.39 170.98H448.08V177.64H441.39zM354.5 177.64H361.18V184.3H354.5zM374.55 177.64H381.23V184.3H374.55zM394.6 177.64H401.29V184.3H394.6zM367.87 184.3H374.55V190.96H367.87zM387.92 184.3H394.6V190.96H387.92zM361.18 190.96H367.87V197.62H361.18zM374.55 197.62H381.23V204.28H374.55zM367.87 204.28H374.55V210.94H367.87z"/>
<path fill="#1b7cc0" d="M361.18 51.12H367.87V57.77H361.18zM361.18 57.77H367.87V64.43H361.18z"/></g><path d="M266.6 46 273.6 46 275.6 52 278.6 57 279.1 75 279.6 92 286.6 93 287.1 76 289.6 73 290.6 62 295.6 59 300.6 60 302.1 65 302.6 80 301.6 95 298.6 102 295.6 110 300.6 116 307.6 115 315.6 117 315.6 124 307.6 130 303.6 136 309.6 142 321.6 143 321.6 150 313.6 150 307.6 156 303.6 162 302.6 167 312.6 169 318.6 167 324.6 163 332.6 158 337.6 156 334.6 162 326.6 170 320.6 176 318.6 183 326.6 187 333.6 181 338.6 176 342.6 172 343.6 180 341.6 195 342.6 205 340.6 218 266.6 218zM362.8 79 354.6 84 344.6 91 337.2 98.7 332.4 106 331.4 112 332.1 120 332.6 127 335.1 130 337.6 127 342.6 125 348.6 124.5 352.6 121 356.1 114 359.2 106 361.6 93.8 364.1 81.6zM362.1 78.5 370.1 79.5 372.1 84 364.6 84.5 361.6 82zM389.1 55.5 391 59.9 375.5 83.9 371.6 84.8 369.7 80.1 385.2 56.1zM463 168a1.6 1.6 0 1 0 3.2 0a1.6 1.6 0 1 0 -3.2 0z" fill="none" stroke="#2f8dcb" stroke-width="6" stroke-linejoin="round" filter="url(#bh2)"/><path d="M266.6 46 273.6 46 275.6 52 278.6 57 279.1 75 279.6 92 286.6 93 287.1 76 289.6 73 290.6 62 295.6 59 300.6 60 302.1 65 302.6 80 301.6 95 298.6 102 295.6 110 300.6 116 307.6 115 315.6 117 315.6 124 307.6 130 303.6 136 309.6 142 321.6 143 321.6 150 313.6 150 307.6 156 303.6 162 302.6 167 312.6 169 318.6 167 324.6 163 332.6 158 337.6 156 334.6 162 326.6 170 320.6 176 318.6 183 326.6 187 333.6 181 338.6 176 342.6 172 343.6 180 341.6 195 342.6 205 340.6 218 266.6 218zM362.8 79 354.6 84 344.6 91 337.2 98.7 332.4 106 331.4 112 332.1 120 332.6 127 335.1 130 337.6 127 342.6 125 348.6 124.5 352.6 121 356.1 114 359.2 106 361.6 93.8 364.1 81.6zM362.1 78.5 370.1 79.5 372.1 84 364.6 84.5 361.6 82zM389.1 55.5 391 59.9 375.5 83.9 371.6 84.8 369.7 80.1 385.2 56.1zM463 168a1.6 1.6 0 1 0 3.2 0a1.6 1.6 0 1 0 -3.2 0z" fill="#fff"/><polygon points="284.5,36 289,34 290.5,39 287,43 283.5,41" fill="#fff"/><polygon points="281,58 287,57 289.5,63 287,71 282,71 280,65" fill="#fff"/><polyline points="364.1,126.5 354.6,138 346,150 334.6,161" fill="none" stroke="#3f97cc" stroke-width="1.8" filter="url(#bh1)"/><polygon points="397.1,58.5 383.6,75.5 380.1,72.5 394.1,55.5" fill="#2a86c4" filter="url(#bh1)"/><polygon points="356.6,55 361.6,54 363.6,60 361.6,67 357.6,69 354.6,64" fill="#3a92c8" filter="url(#bh1)"/><polygon points="266.6,178 271.6,177 274.6,181 273.6,188 275.6,194 272.6,201 266.6,202" fill="#6fb2d8" filter="url(#bh1)"/></g>
<g clip-path="url(#k2)"><g filter="url(#bli)"><path fill="#c6e5e6" d="M-1 216.4H18.04V229.04H-1zM31.07 216.4H44.11V229.04H31.07zM-1 229.04H24.56V235.68H-1zM-1 242.32H18.04V248.96H-1zM-1 248.96H18.04V255.59H-1z"/>
<path fill="#a2d2e5" d="M18.04 216.4H31.07V229.04H18.04z"/>
<path fill="#fef8c4" d="M44.11 216.4H50.63V229.04H44.11zM44.11 235.68H50.63V242.32H44.11z"/>
<path fill="#fdd291" d="M50.63 216.4H115.3V229.04H50.63zM50.63 229.04H115.3V235.68H50.63zM18.04 235.68H31.07V242.32H18.04zM50.63 235.68H83.22V242.32H50.63zM96.26 235.68H115.3V242.32H96.26zM18.04 242.32H24.56V248.96H18.04zM31.07 242.32H37.59V248.96H31.07zM44.11 242.32H57.15V248.96H44.11zM63.67 242.32H83.22V248.96H63.67zM96.26 242.32H115.3V248.96H96.26zM18.04 248.96H44.11V255.59H18.04zM57.15 248.96H70.19V255.59H57.15zM76.71 248.96H115.3V255.59H76.71zM18.04 255.59H31.07V262.23H18.04zM37.59 255.59H44.11V262.23H37.59zM57.15 255.59H70.19V262.23H57.15zM76.71 255.59H115.3V262.23H76.71zM18.04 262.23H24.56V268.87H18.04zM44.11 262.23H50.63V268.87H44.11zM57.15 262.23H115.3V268.87H57.15zM11.52 268.87H24.56V275.51H11.52zM50.63 268.87H115.3V275.51H50.63zM-1 275.51H18.04V282.15H-1zM50.63 275.51H115.3V282.15H50.63zM-1 282.15H18.04V288.79H-1zM31.07 282.15H89.74V288.79H31.07zM96.26 282.15H115.3V288.79H96.26zM37.59 288.79H76.71V295.43H37.59zM83.22 288.79H115.3V295.43H83.22zM24.56 295.43H31.07V302.07H24.56zM37.59 295.43H44.11V302.07H37.59zM57.15 295.43H76.71V302.07H57.15zM89.74 295.43H115.3V302.07H89.74zM-1 302.07H31.07V308.71H-1zM50.63 302.07H63.67V308.71H50.63zM70.19 302.07H76.71V308.71H70.19zM96.26 302.07H115.3V308.71H96.26zM18.04 308.71H24.56V315.34H18.04zM50.63 308.71H76.71V315.34H50.63zM83.22 308.71H89.74V315.34H83.22zM102.78 308.71H115.3V315.34H102.78zM50.63 315.34H83.22V321.98H50.63zM96.26 315.34H115.3V321.98H96.26zM57.15 321.98H115.3V328.62H57.15zM83.22 328.62H96.26V335.26H83.22z"/>
<path fill="#fee8a8" d="M24.56 229.04H50.63V235.68H24.56zM-1 235.68H18.04V242.32H-1zM31.07 235.68H44.11V242.32H31.07zM37.59 242.32H44.11V248.96H37.59zM-1 255.59H18.04V262.23H-1zM-1 262.23H18.04V268.87H-1zM-1 268.87H11.52V275.51H-1zM44.11 295.43H57.15V302.07H44.11zM31.07 302.07H50.63V308.71H31.07zM-1 308.71H18.04V315.34H-1zM24.56 308.71H50.63V315.34H24.56zM-1 315.34H50.63V321.98H-1zM-1 321.98H57.15V328.62H-1zM-1 328.62H83.22V335.26H-1zM96.26 328.62H115.3V335.26H96.26zM-1 335.26H115.3V347.9H-1z"/>
<path fill="#fbab65" d="M83.22 235.68H89.74V242.32H83.22zM24.56 242.32H31.07V248.96H24.56zM57.15 242.32H63.67V248.96H57.15zM83.22 242.32H89.74V248.96H83.22zM44.11 248.96H57.15V255.59H44.11zM70.19 248.96H76.71V255.59H70.19zM31.07 255.59H37.59V262.23H31.07zM44.11 255.59H57.15V262.23H44.11zM70.19 255.59H76.71V262.23H70.19zM24.56 262.23H44.11V268.87H24.56zM50.63 262.23H57.15V268.87H50.63zM24.56 268.87H50.63V275.51H24.56zM18.04 275.51H31.07V282.15H18.04zM37.59 275.51H50.63V282.15H37.59zM18.04 282.15H31.07V288.79H18.04zM89.74 282.15H96.26V288.79H89.74zM-1 288.79H24.56V295.43H-1zM31.07 288.79H37.59V295.43H31.07zM76.71 288.79H83.22V295.43H76.71zM-1 295.43H24.56V302.07H-1zM31.07 295.43H37.59V302.07H31.07zM76.71 295.43H89.74V302.07H76.71zM63.67 302.07H70.19V308.71H63.67zM76.71 302.07H96.26V308.71H76.71zM76.71 308.71H83.22V315.34H76.71zM89.74 308.71H102.78V315.34H89.74zM83.22 315.34H96.26V321.98H83.22z"/>
<path fill="#e8201e" d="M89.74 235.68H96.26V242.32H89.74z"/>
<path fill="#f2643f" d="M89.74 242.32H96.26V248.96H89.74zM31.07 275.51H37.59V282.15H31.07zM24.56 288.79H31.07V295.43H24.56z"/></g><polyline points="112,226 70,277" fill="none" stroke="#cfe9ea" stroke-width="6" filter="url(#bh1)"/><polyline points="112,226 70,277" fill="none" stroke="#8cc6df" stroke-width="3" filter="url(#bh1)"/><polyline points="72,274 45,306 14,345" fill="none" stroke="#d2ebea" stroke-width="10" filter="url(#bh1)"/><polyline points="72,274 45,306 14,345" fill="none" stroke="#92c9e0" stroke-width="5" filter="url(#bh1)"/><path d="M61 281h6v6h-6zM55 288h5v6h-5zM48 296h6v6h-6zM40 307h6v6h-6z" fill="#fff"/><path d="M63 281h3v3h-3zM49 304h3v3h-3zM38 313h3v3h-3zM56 294h3v3h-3z" fill="#3f95c9"/><polygon points="5,222 25,222 14,230 11,240 10,270 5,270" fill="#fff"/></g>
<g clip-path="url(#k3)"><g filter="url(#bli)"><path fill="#f2643f" d="M108.8 216.4H121.3V229.04H108.8zM127.8 216.4H140.8V229.04H127.8zM153.8 216.4H166.8V229.04H153.8zM186.3 216.4H199.3V229.04H186.3zM205.8 216.4H212.3V229.04H205.8zM108.8 229.04H121.3V235.68H108.8zM127.8 229.04H134.3V235.68H127.8zM179.8 229.04H212.3V235.68H179.8zM127.8 235.68H134.3V242.32H127.8zM179.8 235.68H186.3V242.32H179.8zM199.3 235.68H205.8V242.32H199.3zM108.8 242.32H127.8V248.96H108.8zM192.8 242.32H199.3V248.96H192.8zM205.8 242.32H224.8V248.96H205.8zM186.3 248.96H192.8V255.59H186.3zM212.3 248.96H224.8V255.59H212.3zM108.8 255.59H127.8V262.23H108.8zM212.3 255.59H224.8V262.23H212.3zM212.3 262.23H224.8V268.87H212.3zM108.8 268.87H121.3V275.51H108.8zM205.8 268.87H224.8V275.51H205.8zM108.8 275.51H134.3V282.15H108.8zM212.3 275.51H224.8V282.15H212.3zM108.8 282.15H134.3V288.79H108.8zM205.8 282.15H224.8V288.79H205.8zM108.8 288.79H127.8V295.43H108.8zM205.8 288.79H212.3V295.43H205.8zM108.8 295.43H121.3V302.07H108.8zM205.8 302.07H224.8V308.71H205.8zM199.3 308.71H205.8V315.34H199.3zM153.8 315.34H160.3V321.98H153.8zM192.8 315.34H199.3V321.98H192.8zM160.3 321.98H166.8V328.62H160.3zM147.3 328.62H153.8V335.26H147.3zM166.8 328.62H173.3V335.26H166.8zM179.8 328.62H192.8V335.26H179.8zM212.3 328.62H224.8V335.26H212.3zM140.8 335.26H160.3V347.9H140.8zM166.8 335.26H173.3V347.9H166.8zM179.8 335.26H192.8V347.9H179.8zM205.8 335.26H212.3V347.9H205.8z"/>
<path fill="#fbab65" d="M121.3 216.4H127.8V229.04H121.3zM140.8 216.4H153.8V229.04H140.8zM179.8 216.4H186.3V229.04H179.8zM212.3 216.4H224.8V229.04H212.3zM121.3 229.04H127.8V235.68H121.3zM134.3 229.04H147.3V235.68H134.3zM212.3 229.04H224.8V235.68H212.3zM121.3 235.68H127.8V242.32H121.3zM134.3 235.68H147.3V242.32H134.3zM212.3 235.68H224.8V242.32H212.3zM127.8 242.32H134.3V248.96H127.8zM179.8 242.32H186.3V248.96H179.8zM121.3 248.96H127.8V255.59H121.3zM179.8 248.96H186.3V255.59H179.8zM205.8 248.96H212.3V255.59H205.8zM179.8 255.59H186.3V262.23H179.8zM205.8 255.59H212.3V262.23H205.8zM205.8 262.23H212.3V268.87H205.8zM199.3 268.87H205.8V275.51H199.3zM199.3 275.51H212.3V282.15H199.3zM192.8 282.15H205.8V288.79H192.8zM192.8 288.79H205.8V295.43H192.8zM192.8 295.43H205.8V302.07H192.8zM192.8 302.07H199.3V308.71H192.8zM192.8 308.71H199.3V315.34H192.8zM160.3 315.34H166.8V321.98H160.3zM147.3 321.98H153.8V328.62H147.3zM186.3 321.98H192.8V328.62H186.3zM140.8 328.62H147.3V335.26H140.8zM173.3 328.62H179.8V335.26H173.3zM127.8 335.26H140.8V347.9H127.8zM173.3 335.26H179.8V347.9H173.3z"/>
<path fill="#fee8a8" d="M166.8 216.4H173.3V229.04H166.8zM160.3 229.04H173.3V235.68H160.3zM147.3 235.68H153.8V242.32H147.3zM160.3 235.68H166.8V242.32H160.3zM140.8 242.32H147.3V248.96H140.8zM160.3 242.32H173.3V248.96H160.3zM134.3 248.96H140.8V255.59H134.3zM160.3 248.96H173.3V255.59H160.3zM153.8 255.59H173.3V262.23H153.8zM147.3 262.23H166.8V268.87H147.3zM173.3 262.23H179.8V268.87H173.3zM121.3 268.87H127.8V275.51H121.3zM140.8 268.87H160.3V275.51H140.8zM166.8 268.87H179.8V275.51H166.8zM153.8 275.51H160.3V282.15H153.8zM166.8 275.51H186.3V282.15H166.8zM153.8 282.15H173.3V288.79H153.8zM179.8 282.15H186.3V288.79H179.8zM147.3 288.79H153.8V295.43H147.3zM179.8 288.79H186.3V295.43H179.8zM179.8 295.43H186.3V302.07H179.8zM173.3 302.07H186.3V308.71H173.3zM147.3 308.71H186.3V315.34H147.3zM140.8 315.34H147.3V321.98H140.8zM166.8 315.34H186.3V321.98H166.8zM134.3 321.98H140.8V328.62H134.3zM173.3 321.98H179.8V328.62H173.3z"/>
<path fill="#fdd291" d="M173.3 216.4H179.8V229.04H173.3zM147.3 229.04H160.3V235.68H147.3zM173.3 229.04H179.8V235.68H173.3zM108.8 235.68H121.3V242.32H108.8zM166.8 235.68H179.8V242.32H166.8zM134.3 242.32H140.8V248.96H134.3zM173.3 242.32H179.8V248.96H173.3zM199.3 242.32H205.8V248.96H199.3zM127.8 248.96H134.3V255.59H127.8zM173.3 248.96H179.8V255.59H173.3zM192.8 248.96H205.8V255.59H192.8zM127.8 255.59H134.3V262.23H127.8zM173.3 255.59H179.8V262.23H173.3zM186.3 255.59H205.8V262.23H186.3zM121.3 262.23H127.8V268.87H121.3zM166.8 262.23H173.3V268.87H166.8zM179.8 262.23H205.8V268.87H179.8zM160.3 268.87H166.8V275.51H160.3zM179.8 268.87H199.3V275.51H179.8zM160.3 275.51H166.8V282.15H160.3zM186.3 275.51H199.3V282.15H186.3zM186.3 282.15H192.8V288.79H186.3zM186.3 288.79H192.8V295.43H186.3zM186.3 295.43H192.8V302.07H186.3zM186.3 302.07H192.8V308.71H186.3zM199.3 302.07H205.8V308.71H199.3zM186.3 308.71H192.8V315.34H186.3zM147.3 315.34H153.8V321.98H147.3zM186.3 315.34H192.8V321.98H186.3zM140.8 321.98H147.3V328.62H140.8zM166.8 321.98H173.3V328.62H166.8zM179.8 321.98H186.3V328.62H179.8zM134.3 328.62H140.8V335.26H134.3z"/>
<path fill="#e8201e" d="M199.3 216.4H205.8V229.04H199.3zM186.3 235.68H199.3V242.32H186.3zM205.8 235.68H212.3V242.32H205.8zM186.3 242.32H192.8V248.96H186.3zM108.8 248.96H121.3V255.59H108.8zM108.8 262.23H121.3V268.87H108.8zM212.3 288.79H224.8V295.43H212.3zM205.8 295.43H224.8V302.07H205.8zM205.8 308.71H224.8V315.34H205.8zM199.3 315.34H224.8V321.98H199.3zM153.8 321.98H160.3V328.62H153.8zM192.8 321.98H224.8V328.62H192.8zM153.8 328.62H166.8V335.26H153.8zM192.8 328.62H212.3V335.26H192.8zM160.3 335.26H166.8V347.9H160.3zM192.8 335.26H205.8V347.9H192.8zM212.3 335.26H224.8V347.9H212.3z"/>
<path fill="#c6e5e6" d="M153.8 235.68H160.3V242.32H153.8zM147.3 242.32H160.3V248.96H147.3zM140.8 248.96H160.3V255.59H140.8zM134.3 255.59H153.8V262.23H134.3zM127.8 262.23H147.3V268.87H127.8zM127.8 268.87H140.8V275.51H127.8zM173.3 282.15H179.8V288.79H173.3zM127.8 288.79H147.3V295.43H127.8zM153.8 288.79H166.8V295.43H153.8zM173.3 288.79H179.8V295.43H173.3zM121.3 295.43H160.3V302.07H121.3zM173.3 295.43H179.8V302.07H173.3zM108.8 302.07H153.8V308.71H108.8zM160.3 302.07H173.3V308.71H160.3zM108.8 308.71H147.3V315.34H108.8zM127.8 315.34H134.3V321.98H127.8zM121.3 328.62H134.3V335.26H121.3zM121.3 335.26H127.8V347.9H121.3z"/>
<path fill="#fef8c4" d="M134.3 275.51H153.8V282.15H134.3zM134.3 282.15H153.8V288.79H134.3z"/>
<path fill="#a2d2e5" d="M166.8 288.79H173.3V295.43H166.8zM160.3 295.43H173.3V302.07H160.3zM153.8 302.07H160.3V308.71H153.8zM108.8 315.34H127.8V321.98H108.8zM134.3 315.34H140.8V321.98H134.3zM108.8 321.98H134.3V328.62H108.8z"/>
<path fill="#6caacf" d="M108.8 328.62H121.3V335.26H108.8zM108.8 335.26H121.3V347.9H108.8z"/></g><polyline points="198,244 186.5,260.2 178.9,271.6 170,285 165,294" fill="none" stroke="#d8eeea" stroke-width="5" filter="url(#bh1)"/><polyline points="198,244 186.5,260.2 178.9,271.6 170,285 165,294" fill="none" stroke="#a6d3e4" stroke-width="2.2" filter="url(#bh1)"/><polygon points="157.9,240.1 162,237.5 166.5,238.2 165.5,246.8 162.7,254.4 159.8,260.2 157,267.8 154,275.4 152.2,282 149.4,291.2 145.5,300 142.6,309 135,315 129.3,318 125.5,327 121.5,334 118,342 114,342 114,282 115.9,282 117.8,279.2 120.7,275.4 125.5,269.7 131.2,264 136.9,256.4 142.6,248.7 150.3,243" fill="none" stroke="#d5ecea" stroke-width="3" filter="url(#bh1)"/><polygon points="157.9,240.1 162,237.5 166.5,238.2 165.5,246.8 162.7,254.4 159.8,260.2 157,267.8 154,275.4 152.2,282 149.4,291.2 145.5,300 142.6,309 135,315 129.3,318 125.5,327 121.5,334 118,342 114,342 114,282 115.9,282 117.8,279.2 120.7,275.4 125.5,269.7 131.2,264 136.9,256.4 142.6,248.7 150.3,243" fill="#fff"/><rect x="115" y="336" width="3" height="6" fill="#3a92c8"/></g>
<g clip-path="url(#k4)"><g filter="url(#bli)"><path fill="#3b95cb" d="M261.4 216.4H306.55V229.04H261.4zM261.4 229.04H306.55V235.68H261.4zM261.4 235.68H273.92V242.32H261.4zM286.97 235.68H300.02V242.32H286.97zM261.4 242.32H280.45V248.96H261.4zM261.4 248.96H286.97V255.59H261.4zM345.7 248.96H358.75V255.59H345.7zM332.65 262.23H339.18V268.87H332.65zM326.12 268.87H332.65V275.51H326.12zM326.12 275.51H332.65V282.15H326.12zM319.6 282.15H326.12V288.79H319.6zM313.07 295.43H319.6V302.07H313.07zM306.55 302.07H319.6V308.71H306.55zM300.02 308.71H313.07V315.34H300.02zM300.02 315.34H313.07V321.98H300.02z"/>
<path fill="#8ec7e0" d="M306.55 216.4H332.65V229.04H306.55zM358.75 216.4H377.8V229.04H358.75zM306.55 229.04H319.6V235.68H306.55zM326.12 229.04H332.65V235.68H326.12zM273.92 235.68H286.97V242.32H273.92zM300.02 235.68H313.07V242.32H300.02zM358.75 235.68H365.27V242.32H358.75zM280.45 242.32H306.55V248.96H280.45zM352.23 242.32H365.27V248.96H352.23zM286.97 248.96H300.02V255.59H286.97zM358.75 248.96H365.27V255.59H358.75zM261.4 255.59H286.97V262.23H261.4zM339.18 255.59H358.75V262.23H339.18zM261.4 262.23H280.45V268.87H261.4zM326.12 262.23H332.65V268.87H326.12zM339.18 262.23H352.23V268.87H339.18zM319.6 268.87H326.12V275.51H319.6zM332.65 268.87H339.18V275.51H332.65zM332.65 275.51H339.18V282.15H332.65zM332.65 282.15H339.18V288.79H332.65zM313.07 288.79H332.65V295.43H313.07zM306.55 295.43H313.07V302.07H306.55zM319.6 295.43H326.12V302.07H319.6zM300.02 302.07H306.55V308.71H300.02zM293.5 308.71H300.02V315.34H293.5zM313.07 308.71H319.6V315.34H313.07zM293.5 315.34H300.02V321.98H293.5zM313.07 315.34H319.6V321.98H313.07zM286.97 321.98H306.55V328.62H286.97z"/>
<path fill="#c6e5e8" d="M332.65 216.4H358.75V229.04H332.65zM319.6 229.04H326.12V235.68H319.6zM332.65 229.04H377.8V235.68H332.65zM313.07 235.68H332.65V242.32H313.07zM339.18 235.68H358.75V242.32H339.18zM365.27 235.68H377.8V242.32H365.27zM306.55 242.32H332.65V248.96H306.55zM339.18 242.32H352.23V248.96H339.18zM365.27 242.32H377.8V248.96H365.27zM300.02 248.96H313.07V255.59H300.02zM319.6 248.96H345.7V255.59H319.6zM365.27 248.96H377.8V255.59H365.27zM286.97 255.59H306.55V262.23H286.97zM319.6 255.59H339.18V262.23H319.6zM358.75 255.59H365.27V262.23H358.75zM280.45 262.23H300.02V268.87H280.45zM319.6 262.23H326.12V268.87H319.6zM352.23 262.23H358.75V268.87H352.23zM261.4 268.87H286.97V275.51H261.4zM339.18 268.87H352.23V275.51H339.18zM319.6 275.51H326.12V282.15H319.6zM339.18 275.51H345.7V282.15H339.18zM306.55 282.15H319.6V288.79H306.55zM326.12 282.15H332.65V288.79H326.12zM339.18 282.15H352.23V288.79H339.18zM306.55 288.79H313.07V295.43H306.55zM332.65 288.79H345.7V295.43H332.65zM300.02 295.43H306.55V302.07H300.02zM326.12 295.43H339.18V302.07H326.12zM293.5 302.07H300.02V308.71H293.5zM319.6 302.07H332.65V308.71H319.6zM286.97 308.71H293.5V315.34H286.97zM319.6 308.71H326.12V315.34H319.6zM286.97 315.34H293.5V321.98H286.97zM280.45 321.98H286.97V328.62H280.45zM306.55 321.98H319.6V328.62H306.55zM280.45 328.62H313.07V335.26H280.45zM286.97 335.26H293.5V347.9H286.97z"/>
<path fill="#fcf6c6" d="M332.65 235.68H339.18V242.32H332.65zM332.65 242.32H339.18V248.96H332.65zM313.07 248.96H319.6V255.59H313.07zM306.55 255.59H319.6V262.23H306.55zM365.27 255.59H377.8V262.23H365.27zM300.02 262.23H319.6V268.87H300.02zM358.75 262.23H377.8V268.87H358.75zM286.97 268.87H319.6V275.51H286.97zM352.23 268.87H358.75V275.51H352.23zM261.4 275.51H293.5V282.15H261.4zM306.55 275.51H319.6V282.15H306.55zM345.7 275.51H352.23V282.15H345.7zM261.4 282.15H273.92V288.79H261.4zM300.02 282.15H306.55V288.79H300.02zM352.23 282.15H377.8V288.79H352.23zM261.4 288.79H273.92V295.43H261.4zM300.02 288.79H306.55V295.43H300.02zM345.7 288.79H358.75V295.43H345.7zM365.27 288.79H377.8V295.43H365.27zM261.4 295.43H280.45V302.07H261.4zM293.5 295.43H300.02V302.07H293.5zM339.18 295.43H345.7V302.07H339.18zM365.27 295.43H377.8V302.07H365.27zM261.4 302.07H293.5V308.71H261.4zM332.65 302.07H339.18V308.71H332.65zM365.27 302.07H377.8V308.71H365.27zM261.4 308.71H286.97V315.34H261.4zM326.12 308.71H332.65V315.34H326.12zM358.75 308.71H377.8V315.34H358.75zM261.4 315.34H286.97V321.98H261.4zM319.6 315.34H332.65V321.98H319.6zM358.75 315.34H377.8V321.98H358.75zM261.4 321.98H280.45V328.62H261.4zM319.6 321.98H339.18V328.62H319.6zM352.23 321.98H377.8V328.62H352.23zM261.4 328.62H280.45V335.26H261.4zM313.07 328.62H377.8V335.26H313.07zM261.4 335.26H286.97V347.9H261.4zM293.5 335.26H377.8V347.9H293.5z"/>
<path fill="#feeab0" d="M358.75 268.87H377.8V275.51H358.75zM293.5 275.51H306.55V282.15H293.5zM352.23 275.51H377.8V282.15H352.23zM273.92 282.15H300.02V288.79H273.92zM273.92 288.79H300.02V295.43H273.92zM358.75 288.79H365.27V295.43H358.75zM280.45 295.43H293.5V302.07H280.45zM345.7 295.43H365.27V302.07H345.7zM339.18 302.07H365.27V308.71H339.18zM332.65 308.71H358.75V315.34H332.65zM332.65 315.34H358.75V321.98H332.65zM339.18 321.98H352.23V328.62H339.18z"/></g><rect x="329" y="277.6" width="7" height="6.4" fill="#fff"/><rect x="322" y="286" width="7" height="6.2" fill="#fff"/><rect x="315.5" y="293.2" width="6.5" height="6.8" fill="#fff"/><path d="M302 305.6H311.7V309.5H307V312.6H302z" fill="#fff"/><g><path fill="#fff" d="M261.4 216.4H286.97V229.04H261.4zM261.4 229.04H280.45V235.68H261.4zM261.4 235.68H273.92V242.32H261.4zM261.4 248.96H273.92V255.59H261.4zM261.4 255.59H273.92V262.23H261.4zM261.4 262.23H273.92V268.87H261.4z"/></g></g>
<g clip-path="url(#k5)"><g filter="url(#bli)"><path fill="#feeab0" d="M371.3 216.4H390.28V229.04H371.3zM474.61 216.4H487.1V229.04H474.61zM383.79 229.04H390.28V235.68H383.79zM383.79 235.68H390.28V242.32H383.79zM383.79 242.32H390.28V248.96H383.79zM383.79 248.96H390.28V255.59H383.79zM383.79 255.59H390.28V262.23H383.79zM371.3 262.23H383.79V268.87H371.3zM371.3 268.87H383.79V275.51H371.3zM371.3 275.51H383.79V282.15H371.3zM474.61 295.43H487.1V302.07H474.61zM461.64 315.34H487.1V321.98H461.64zM461.64 321.98H487.1V328.62H461.64zM442.18 328.62H448.66V335.26H442.18zM461.64 328.62H487.1V335.26H461.64zM442.18 335.26H448.66V347.9H442.18zM461.64 335.26H487.1V347.9H461.64z"/>
<path fill="#fcf6c6" d="M390.28 216.4H396.76V229.04H390.28zM461.64 216.4H474.61V229.04H461.64zM390.28 229.04H396.76V235.68H390.28zM468.12 229.04H487.1V235.68H468.12zM474.61 235.68H487.1V242.32H474.61zM474.61 242.32H487.1V248.96H474.61zM474.61 248.96H487.1V255.59H474.61zM474.61 255.59H487.1V262.23H474.61zM461.64 282.15H487.1V288.79H461.64zM461.64 288.79H487.1V295.43H461.64zM468.12 295.43H474.61V302.07H468.12z"/>
<path fill="#c6e5e8" d="M396.76 216.4H422.71V229.04H396.76zM455.15 216.4H461.64V229.04H455.15zM396.76 229.04H422.71V235.68H396.76zM455.15 229.04H468.12V235.68H455.15zM390.28 235.68H416.23V242.32H390.28zM448.66 235.68H474.61V242.32H448.66zM390.28 242.32H409.74V248.96H390.28zM448.66 242.32H474.61V248.96H448.66zM390.28 248.96H403.25V255.59H390.28zM448.66 248.96H461.64V255.59H448.66zM468.12 248.96H474.61V255.59H468.12zM390.28 255.59H396.76V262.23H390.28zM448.66 255.59H455.15V262.23H448.66zM461.64 255.59H474.61V262.23H461.64zM383.79 262.23H390.28V268.87H383.79zM448.66 262.23H461.64V268.87H448.66zM468.12 262.23H487.1V268.87H468.12zM383.79 268.87H390.28V275.51H383.79zM448.66 268.87H487.1V275.51H448.66zM383.79 275.51H390.28V282.15H383.79zM448.66 275.51H487.1V282.15H448.66zM455.15 282.15H461.64V288.79H455.15zM455.15 288.79H461.64V295.43H455.15zM455.15 295.43H468.12V302.07H455.15zM448.66 302.07H487.1V308.71H448.66zM448.66 308.71H455.15V315.34H448.66zM442.18 315.34H455.15V321.98H442.18zM429.2 321.98H455.15V328.62H429.2zM416.23 328.62H442.18V335.26H416.23zM448.66 328.62H455.15V335.26H448.66zM409.74 335.26H442.18V347.9H409.74zM448.66 335.26H455.15V347.9H448.66z"/>
<path fill="#8ec7e0" d="M422.71 216.4H429.2V229.04H422.71zM448.66 216.4H455.15V229.04H448.66zM422.71 229.04H429.2V235.68H422.71zM448.66 229.04H455.15V235.68H448.66zM416.23 235.68H422.71V242.32H416.23zM435.69 235.68H448.66V242.32H435.69zM409.74 242.32H448.66V248.96H409.74zM403.25 248.96H448.66V255.59H403.25zM461.64 248.96H468.12V255.59H461.64zM396.76 255.59H448.66V262.23H396.76zM455.15 255.59H461.64V262.23H455.15zM390.28 262.23H396.76V268.87H390.28zM429.2 262.23H448.66V268.87H429.2zM461.64 262.23H468.12V268.87H461.64zM435.69 268.87H448.66V275.51H435.69zM442.18 275.51H448.66V282.15H442.18zM448.66 282.15H455.15V288.79H448.66zM448.66 288.79H455.15V295.43H448.66zM442.18 295.43H455.15V302.07H442.18zM442.18 302.07H448.66V308.71H442.18zM442.18 308.71H448.66V315.34H442.18zM455.15 308.71H487.1V315.34H455.15zM429.2 315.34H442.18V321.98H429.2zM455.15 315.34H461.64V321.98H455.15zM416.23 321.98H429.2V328.62H416.23zM455.15 321.98H461.64V328.62H455.15zM409.74 328.62H416.23V335.26H409.74zM455.15 328.62H461.64V335.26H455.15zM403.25 335.26H409.74V347.9H403.25zM455.15 335.26H461.64V347.9H455.15z"/>
<path fill="#3b95cb" d="M429.2 216.4H448.66V229.04H429.2zM429.2 229.04H448.66V235.68H429.2zM422.71 235.68H435.69V242.32H422.71zM396.76 262.23H422.71V268.87H396.76zM390.28 268.87H416.23V275.51H390.28zM390.28 275.51H416.23V282.15H390.28zM435.69 308.71H442.18V315.34H435.69zM416.23 315.34H429.2V321.98H416.23zM409.74 321.98H416.23V328.62H409.74zM403.25 328.62H409.74V335.26H403.25zM396.76 335.26H403.25V347.9H396.76z"/>
<path fill="#fdd89c" d="M371.3 229.04H383.79V235.68H371.3zM371.3 235.68H383.79V242.32H371.3zM371.3 242.32H383.79V248.96H371.3zM371.3 248.96H383.79V255.59H371.3zM371.3 255.59H383.79V262.23H371.3z"/>
<path fill="#1b7cc0" d="M422.71 262.23H429.2V268.87H422.71zM416.23 268.87H435.69V275.51H416.23zM416.23 275.51H442.18V282.15H416.23zM371.3 282.15H448.66V288.79H371.3zM371.3 288.79H448.66V295.43H371.3zM371.3 295.43H442.18V302.07H371.3zM371.3 302.07H442.18V308.71H371.3zM371.3 308.71H435.69V315.34H371.3zM371.3 315.34H416.23V321.98H371.3zM371.3 321.98H409.74V328.62H371.3zM371.3 328.62H403.25V335.26H371.3zM371.3 335.26H396.76V347.9H371.3z"/></g><polygon points="416.6,240 426,240 429.5,243.5 429.5,249 427.3,250.5 425,254.5 423,258.7 421,263 418.7,267.4 417.3,270.2 416.8,278 413.2,280 413.2,288.6 406.3,289 406.3,305 399,306 398.5,310 389.5,310 389.5,329 385.5,329 385.5,343 376,343 376,281 378.7,280.6 382.2,277.2 385.6,273.7 389.1,270.3 392.5,266.8 395,264.5 397.2,263 399.3,260.2 401.5,257.3 403.6,254.4 406.5,251.6 408.6,248.7 410.8,245.8 413.7,242.9" fill="none" stroke="#2f8dcb" stroke-width="3" filter="url(#bh1)"/><polygon points="416.6,240 426,240 429.5,243.5 429.5,249 427.3,250.5 425,254.5 423,258.7 421,263 418.7,267.4 417.3,270.2 416.8,278 413.2,280 413.2,288.6 406.3,289 406.3,305 399,306 398.5,310 389.5,310 389.5,329 385.5,329 385.5,343 376,343 376,281 378.7,280.6 382.2,277.2 385.6,273.7 389.1,270.3 392.5,266.8 395,264.5 397.2,263 399.3,260.2 401.5,257.3 403.6,254.4 406.5,251.6 408.6,248.7 410.8,245.8 413.7,242.9" fill="#fff"/></g></g>
<g shape-rendering="auto"><rect x="5" y="4.5" width="213.5" height="213" fill="none" stroke="#7d7d7d" stroke-width="1"/>
<rect x="267.6" y="4.5" width="213.9" height="213.1" fill="none" stroke="#7d7d7d" stroke-width="1"/>
<rect x="5" y="222.4" width="104.3" height="119.5" fill="none" stroke="#7d7d7d" stroke-width="1"/>
<rect x="114.8" y="222.4" width="104" height="119.5" fill="none" stroke="#7d7d7d" stroke-width="1"/>
<rect x="267.4" y="222.4" width="104.4" height="119.5" fill="none" stroke="#7d7d7d" stroke-width="1"/>
<rect x="377.3" y="222.4" width="103.8" height="119.5" fill="none" stroke="#7d7d7d" stroke-width="1"/>
<rect x="111.4" y="53.3" width="25.3" height="25.2" fill="none" stroke="#444" stroke-width="0.75" stroke-dasharray="2.2 1.1"/>
<rect x="75.4" y="126.2" width="25.5" height="25" fill="none" stroke="#444" stroke-width="0.75" stroke-dasharray="2.2 1.1"/>
<rect x="375.5" y="53.4" width="25.5" height="25.1" fill="none" stroke="#444" stroke-width="0.75" stroke-dasharray="2.2 1.1"/>
<rect x="339.4" y="126.2" width="25.1" height="25" fill="none" stroke="#444" stroke-width="0.75" stroke-dasharray="2.2 1.1"/>
<line x1="124.05" y1="78.5" x2="166.8" y2="222.4" stroke="#444" stroke-width="0.8"/>
<line x1="88.15" y1="151.2" x2="57.15" y2="222.4" stroke="#444" stroke-width="0.8"/>
<line x1="388.25" y1="78.5" x2="429.2" y2="222.4" stroke="#444" stroke-width="0.8"/>
<line x1="351.95" y1="151.2" x2="319.6" y2="222.4" stroke="#444" stroke-width="0.8"/>
<rect x="226" y="16" width="11" height="62.5" fill="url(#ga)" stroke="#777" stroke-width="0.5"/>
<rect x="489.6" y="16.3" width="10.7" height="61.9" fill="url(#gb)" stroke="#777" stroke-width="0.5"/>
<text x="226.5" y="13.2" font-family="DejaVu Sans, Liberation Sans, sans-serif" font-size="6" fill="#1e1e1e" stroke="#1e1e1e" stroke-width="0.28">LST (K)</text>
<line x1="237" y1="19.8" x2="238.3" y2="19.8" stroke="#333" stroke-width="0.6"/>
<text x="243.3" y="22" font-family="DejaVu Sans, Liberation Sans, sans-serif" font-size="6" fill="#1e1e1e" stroke="#1e1e1e" stroke-width="0.28">290</text>
<line x1="237" y1="28.97" x2="238.3" y2="28.97" stroke="#333" stroke-width="0.6"/>
<text x="243.3" y="31.17" font-family="DejaVu Sans, Liberation Sans, sans-serif" font-size="6" fill="#1e1e1e" stroke="#1e1e1e" stroke-width="0.28">295</text>
<line x1="237" y1="38.14" x2="238.3" y2="38.14" stroke="#333" stroke-width="0.6"/>
<text x="243.3" y="40.34" font-family="DejaVu Sans, Liberation Sans, sans-serif" font-size="6" fill="#1e1e1e" stroke="#1e1e1e" stroke-width="0.28">300</text>
<line x1="237" y1="47.31" x2="238.3" y2="47.31" stroke="#333" stroke-width="0.6"/>
<text x="243.3" y="49.51" font-family="DejaVu Sans, Liberation Sans, sans-serif" font-size="6" fill="#1e1e1e" stroke="#1e1e1e" stroke-width="0.28">305</text>
<line x1="237" y1="56.48" x2="238.3" y2="56.48" stroke="#333" stroke-width="0.6"/>
<text x="243.3" y="58.68" font-family="DejaVu Sans, Liberation Sans, sans-serif" font-size="6" fill="#1e1e1e" stroke="#1e1e1e" stroke-width="0.28">310</text>
<line x1="237" y1="65.65" x2="238.3" y2="65.65" stroke="#333" stroke-width="0.6"/>
<text x="243.3" y="67.85" font-family="DejaVu Sans, Liberation Sans, sans-serif" font-size="6" fill="#1e1e1e" stroke="#1e1e1e" stroke-width="0.28">315</text>
<line x1="237" y1="74.82" x2="238.3" y2="74.82" stroke="#333" stroke-width="0.6"/>
<text x="243.3" y="77.02" font-family="DejaVu Sans, Liberation Sans, sans-serif" font-size="6" fill="#1e1e1e" stroke="#1e1e1e" stroke-width="0.28">320</text>
<line x1="500.3" y1="19.9" x2="501.6" y2="19.9" stroke="#333" stroke-width="0.6"/>
<text x="505.2" y="22.1" font-family="DejaVu Sans, Liberation Sans, sans-serif" font-size="6" fill="#1e1e1e" stroke="#1e1e1e" stroke-width="0.28">−0.3</text>
<line x1="500.3" y1="29" x2="501.6" y2="29" stroke="#333" stroke-width="0.6"/>
<text x="505.2" y="31.2" font-family="DejaVu Sans, Liberation Sans, sans-serif" font-size="6" fill="#1e1e1e" stroke="#1e1e1e" stroke-width="0.28">−0.2</text>
<line x1="500.3" y1="38.1" x2="501.6" y2="38.1" stroke="#333" stroke-width="0.6"/>
<text x="505.2" y="40.3" font-family="DejaVu Sans, Liberation Sans, sans-serif" font-size="6" fill="#1e1e1e" stroke="#1e1e1e" stroke-width="0.28">−0.1</text>
<line x1="500.3" y1="47.2" x2="501.6" y2="47.2" stroke="#333" stroke-width="0.6"/>
<text x="506.7" y="49.4" font-family="DejaVu Sans, Liberation Sans, sans-serif" font-size="6" fill="#1e1e1e" stroke="#1e1e1e" stroke-width="0.28">0</text>
<line x1="500.3" y1="56.3" x2="501.6" y2="56.3" stroke="#333" stroke-width="0.6"/>
<text x="506.7" y="58.5" font-family="DejaVu Sans, Liberation Sans, sans-serif" font-size="6" fill="#1e1e1e" stroke="#1e1e1e" stroke-width="0.28">0.1</text>
<line x1="500.3" y1="65.4" x2="501.6" y2="65.4" stroke="#333" stroke-width="0.6"/>
<text x="506.7" y="67.6" font-family="DejaVu Sans, Liberation Sans, sans-serif" font-size="6" fill="#1e1e1e" stroke="#1e1e1e" stroke-width="0.28">0.2</text>
<line x1="500.3" y1="74.5" x2="501.6" y2="74.5" stroke="#333" stroke-width="0.6"/>
<text x="506.7" y="76.7" font-family="DejaVu Sans, Liberation Sans, sans-serif" font-size="6" fill="#1e1e1e" stroke="#1e1e1e" stroke-width="0.28">0.3</text>
<text x="490" y="12.9" font-family="DejaVu Sans, sans-serif" font-size="7.4" fill="#1e1e1e" stroke="#1e1e1e" stroke-width="0.3">Δ<tspan font-style="italic">θ</tspan></text>
<path d="M490.4 213.6H530.9 M490.4 211.6v4 M510.7 211.6v4 M530.9 211.6v4" stroke="#444" stroke-width="0.8" fill="none"/>
<text x="490.4" y="206.9" text-anchor="middle" font-family="DejaVu Sans, Liberation Sans, sans-serif" font-size="6" fill="#1e1e1e" stroke="#1e1e1e" stroke-width="0.28">0</text>
<text x="510.7" y="206.9" text-anchor="middle" font-family="DejaVu Sans, Liberation Sans, sans-serif" font-size="6" fill="#1e1e1e" stroke="#1e1e1e" stroke-width="0.28">10</text>
<text x="530.9" y="206.9" text-anchor="middle" font-family="DejaVu Sans, Liberation Sans, sans-serif" font-size="6" fill="#1e1e1e" stroke="#1e1e1e" stroke-width="0.28">20</text>
<text x="535.8" y="206.9" font-family="DejaVu Sans, Liberation Sans, sans-serif" font-size="6" fill="#1e1e1e" stroke="#1e1e1e" stroke-width="0.28">km</text>
<path d="M490.4 338.7H528.2 M490.4 336.7v4 M509.4 336.7v4 M528.2 336.7v4" stroke="#444" stroke-width="0.8" fill="none"/>
<text x="490.4" y="332.6" text-anchor="middle" font-family="DejaVu Sans, Liberation Sans, sans-serif" font-size="6" fill="#1e1e1e" stroke="#1e1e1e" stroke-width="0.28">0</text>
<text x="509.4" y="332.6" text-anchor="middle" font-family="DejaVu Sans, Liberation Sans, sans-serif" font-size="6" fill="#1e1e1e" stroke="#1e1e1e" stroke-width="0.28">2</text>
<text x="528.2" y="332.6" text-anchor="middle" font-family="DejaVu Sans, Liberation Sans, sans-serif" font-size="6" fill="#1e1e1e" stroke="#1e1e1e" stroke-width="0.28">4</text>
<text x="531.3" y="332.6" font-family="DejaVu Sans, Liberation Sans, sans-serif" font-size="6" fill="#1e1e1e" stroke="#1e1e1e" stroke-width="0.28">km</text>
<text x="7.5" y="15.3" font-family="Liberation Serif, serif" font-size="10.5" fill="#1a1a1a" stroke="#1a1a1a" stroke-width="0.35">(a)</text>
<text x="270.6" y="16.8" font-family="DejaVu Sans, sans-serif" font-size="10.6" fill="#1a1a1a" stroke="#1a1a1a" stroke-width="0.2" textLength="12.4" lengthAdjust="spacingAndGlyphs">(b)</text>
</g>
</svg>
</body></html>
